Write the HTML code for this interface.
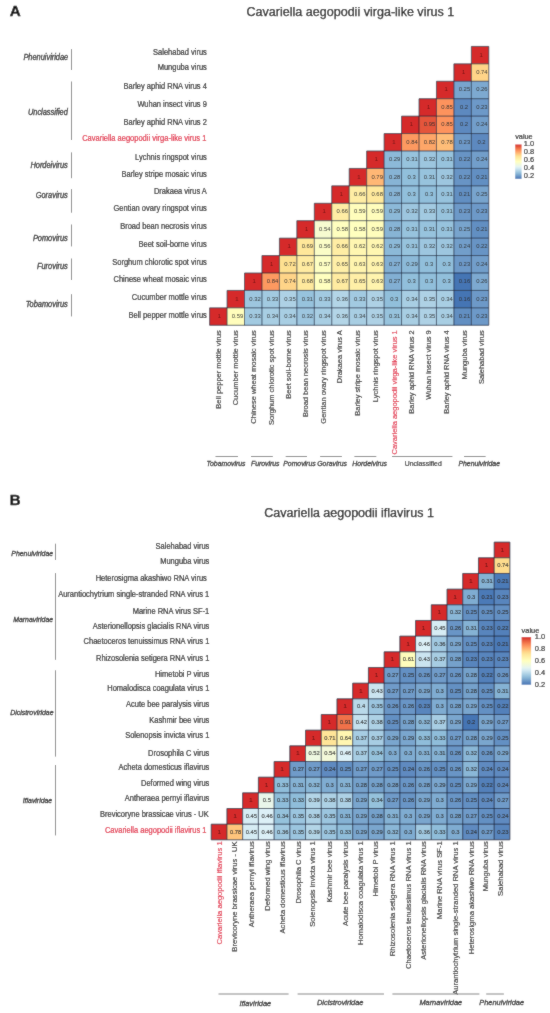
<!DOCTYPE html>
<html><head><meta charset="utf-8"><title>Heatmaps</title>
<style>html,body{margin:0;padding:0;background:#fff;width:550px;height:1013px;overflow:hidden;position:relative}text{font-family:"Liberation Sans",sans-serif}</style>
</head><body>
<svg width="550" height="1013" viewBox="0 0 550 1013" font-family="Liberation Sans, sans-serif" style="position:absolute;left:0;top:0">
<defs><filter id="soft" x="0" y="0" width="550" height="1013" filterUnits="userSpaceOnUse"><feConvolveMatrix order="3" kernelMatrix="1 2 1 2 24 2 1 2 1" divisor="36" edgeMode="duplicate"/></filter></defs>
<g filter="url(#soft)">
<rect width="550" height="1013" fill="#fff"/>
<text x="9.70" y="15.80" font-size="15.2" text-anchor="start" fill="#000" font-weight="bold" stroke="#000" stroke-width="0.4">A</text>
<text x="246.50" y="16.00" font-size="12.55" text-anchor="start" fill="#111" stroke="#111" stroke-width="0.25">Cavariella aegopodii virga-like virus 1</text>
<rect x="471.35" y="46.40" width="17.45" height="17.43" fill="#d52a2a"/>
<rect x="453.90" y="63.83" width="17.45" height="17.43" fill="#d52a2a"/>
<rect x="471.35" y="63.83" width="17.45" height="17.43" fill="#ffd488"/>
<rect x="436.45" y="81.26" width="17.45" height="17.43" fill="#d52a2a"/>
<rect x="453.90" y="81.26" width="17.45" height="17.43" fill="#78a4cd"/>
<rect x="471.35" y="81.26" width="17.45" height="17.43" fill="#7da9d0"/>
<rect x="419.00" y="98.69" width="17.45" height="17.43" fill="#d52a2a"/>
<rect x="436.45" y="98.69" width="17.45" height="17.43" fill="#fd935d"/>
<rect x="453.90" y="98.69" width="17.45" height="17.43" fill="#5d89bf"/>
<rect x="471.35" y="98.69" width="17.45" height="17.43" fill="#6d99c8"/>
<rect x="401.55" y="116.12" width="17.45" height="17.43" fill="#d52a2a"/>
<rect x="419.00" y="116.12" width="17.45" height="17.43" fill="#e4543a"/>
<rect x="436.45" y="116.12" width="17.45" height="17.43" fill="#fd935d"/>
<rect x="453.90" y="116.12" width="17.45" height="17.43" fill="#5d89bf"/>
<rect x="471.35" y="116.12" width="17.45" height="17.43" fill="#729eca"/>
<rect x="384.10" y="133.55" width="17.45" height="17.43" fill="#d52a2a"/>
<rect x="401.55" y="133.55" width="17.45" height="17.43" fill="#fd9961"/>
<rect x="419.00" y="133.55" width="17.45" height="17.43" fill="#fea668"/>
<rect x="436.45" y="133.55" width="17.45" height="17.43" fill="#ffbd78"/>
<rect x="453.90" y="133.55" width="17.45" height="17.43" fill="#6d99c8"/>
<rect x="471.35" y="133.55" width="17.45" height="17.43" fill="#5d89bf"/>
<rect x="366.65" y="150.98" width="17.45" height="17.43" fill="#d52a2a"/>
<rect x="384.10" y="150.98" width="17.45" height="17.43" fill="#8cb9d8"/>
<rect x="401.55" y="150.98" width="17.45" height="17.43" fill="#97c3dd"/>
<rect x="419.00" y="150.98" width="17.45" height="17.43" fill="#9dc6df"/>
<rect x="436.45" y="150.98" width="17.45" height="17.43" fill="#97c3dd"/>
<rect x="453.90" y="150.98" width="17.45" height="17.43" fill="#6894c5"/>
<rect x="471.35" y="150.98" width="17.45" height="17.43" fill="#729eca"/>
<rect x="349.20" y="168.41" width="17.45" height="17.43" fill="#d52a2a"/>
<rect x="366.65" y="168.41" width="17.45" height="17.43" fill="#ffb774"/>
<rect x="384.10" y="168.41" width="17.45" height="17.43" fill="#87b4d5"/>
<rect x="401.55" y="168.41" width="17.45" height="17.43" fill="#91bfdb"/>
<rect x="419.00" y="168.41" width="17.45" height="17.43" fill="#97c3dd"/>
<rect x="436.45" y="168.41" width="17.45" height="17.43" fill="#9dc6df"/>
<rect x="453.90" y="168.41" width="17.45" height="17.43" fill="#6894c5"/>
<rect x="471.35" y="168.41" width="17.45" height="17.43" fill="#628fc2"/>
<rect x="331.75" y="185.84" width="17.45" height="17.43" fill="#d52a2a"/>
<rect x="349.20" y="185.84" width="17.45" height="17.43" fill="#ffeda4"/>
<rect x="366.65" y="185.84" width="17.45" height="17.43" fill="#ffe99d"/>
<rect x="384.10" y="185.84" width="17.45" height="17.43" fill="#87b4d5"/>
<rect x="401.55" y="185.84" width="17.45" height="17.43" fill="#91bfdb"/>
<rect x="419.00" y="185.84" width="17.45" height="17.43" fill="#91bfdb"/>
<rect x="436.45" y="185.84" width="17.45" height="17.43" fill="#97c3dd"/>
<rect x="453.90" y="185.84" width="17.45" height="17.43" fill="#628fc2"/>
<rect x="471.35" y="185.84" width="17.45" height="17.43" fill="#78a4cd"/>
<rect x="314.30" y="203.27" width="17.45" height="17.43" fill="#d52a2a"/>
<rect x="331.75" y="203.27" width="17.45" height="17.43" fill="#ffeda4"/>
<rect x="349.20" y="203.27" width="17.45" height="17.43" fill="#fffdbc"/>
<rect x="366.65" y="203.27" width="17.45" height="17.43" fill="#fffdbc"/>
<rect x="384.10" y="203.27" width="17.45" height="17.43" fill="#8cb9d8"/>
<rect x="401.55" y="203.27" width="17.45" height="17.43" fill="#9dc6df"/>
<rect x="419.00" y="203.27" width="17.45" height="17.43" fill="#a2cae1"/>
<rect x="436.45" y="203.27" width="17.45" height="17.43" fill="#97c3dd"/>
<rect x="453.90" y="203.27" width="17.45" height="17.43" fill="#6d99c8"/>
<rect x="471.35" y="203.27" width="17.45" height="17.43" fill="#6d99c8"/>
<rect x="296.85" y="220.70" width="17.45" height="17.43" fill="#d52a2a"/>
<rect x="314.30" y="220.70" width="17.45" height="17.43" fill="#f7fbd0"/>
<rect x="331.75" y="220.70" width="17.45" height="17.43" fill="#ffffbf"/>
<rect x="349.20" y="220.70" width="17.45" height="17.43" fill="#ffffbf"/>
<rect x="366.65" y="220.70" width="17.45" height="17.43" fill="#fffdbc"/>
<rect x="384.10" y="220.70" width="17.45" height="17.43" fill="#87b4d5"/>
<rect x="401.55" y="220.70" width="17.45" height="17.43" fill="#97c3dd"/>
<rect x="419.00" y="220.70" width="17.45" height="17.43" fill="#97c3dd"/>
<rect x="436.45" y="220.70" width="17.45" height="17.43" fill="#97c3dd"/>
<rect x="453.90" y="220.70" width="17.45" height="17.43" fill="#78a4cd"/>
<rect x="471.35" y="220.70" width="17.45" height="17.43" fill="#628fc2"/>
<rect x="279.40" y="238.13" width="17.45" height="17.43" fill="#d52a2a"/>
<rect x="296.85" y="238.13" width="17.45" height="17.43" fill="#ffe79a"/>
<rect x="314.30" y="238.13" width="17.45" height="17.43" fill="#fbfdc7"/>
<rect x="331.75" y="238.13" width="17.45" height="17.43" fill="#ffeda4"/>
<rect x="349.20" y="238.13" width="17.45" height="17.43" fill="#fff6b1"/>
<rect x="366.65" y="238.13" width="17.45" height="17.43" fill="#fff6b1"/>
<rect x="384.10" y="238.13" width="17.45" height="17.43" fill="#8cb9d8"/>
<rect x="401.55" y="238.13" width="17.45" height="17.43" fill="#97c3dd"/>
<rect x="419.00" y="238.13" width="17.45" height="17.43" fill="#9dc6df"/>
<rect x="436.45" y="238.13" width="17.45" height="17.43" fill="#9dc6df"/>
<rect x="453.90" y="238.13" width="17.45" height="17.43" fill="#729eca"/>
<rect x="471.35" y="238.13" width="17.45" height="17.43" fill="#6894c5"/>
<rect x="261.95" y="255.56" width="17.45" height="17.43" fill="#d52a2a"/>
<rect x="279.40" y="255.56" width="17.45" height="17.43" fill="#fee090"/>
<rect x="296.85" y="255.56" width="17.45" height="17.43" fill="#ffeba1"/>
<rect x="314.30" y="255.56" width="17.45" height="17.43" fill="#fdfec3"/>
<rect x="331.75" y="255.56" width="17.45" height="17.43" fill="#ffefa7"/>
<rect x="349.20" y="255.56" width="17.45" height="17.43" fill="#fff4ae"/>
<rect x="366.65" y="255.56" width="17.45" height="17.43" fill="#fff4ae"/>
<rect x="384.10" y="255.56" width="17.45" height="17.43" fill="#82afd3"/>
<rect x="401.55" y="255.56" width="17.45" height="17.43" fill="#8cb9d8"/>
<rect x="419.00" y="255.56" width="17.45" height="17.43" fill="#91bfdb"/>
<rect x="436.45" y="255.56" width="17.45" height="17.43" fill="#91bfdb"/>
<rect x="453.90" y="255.56" width="17.45" height="17.43" fill="#6d99c8"/>
<rect x="471.35" y="255.56" width="17.45" height="17.43" fill="#729eca"/>
<rect x="244.50" y="272.99" width="17.45" height="17.43" fill="#d52a2a"/>
<rect x="261.95" y="272.99" width="17.45" height="17.43" fill="#fd9961"/>
<rect x="279.40" y="272.99" width="17.45" height="17.43" fill="#ffd488"/>
<rect x="296.85" y="272.99" width="17.45" height="17.43" fill="#ffe99d"/>
<rect x="314.30" y="272.99" width="17.45" height="17.43" fill="#ffffbf"/>
<rect x="331.75" y="272.99" width="17.45" height="17.43" fill="#ffeba1"/>
<rect x="349.20" y="272.99" width="17.45" height="17.43" fill="#ffefa7"/>
<rect x="366.65" y="272.99" width="17.45" height="17.43" fill="#fff4ae"/>
<rect x="384.10" y="272.99" width="17.45" height="17.43" fill="#82afd3"/>
<rect x="401.55" y="272.99" width="17.45" height="17.43" fill="#91bfdb"/>
<rect x="419.00" y="272.99" width="17.45" height="17.43" fill="#91bfdb"/>
<rect x="436.45" y="272.99" width="17.45" height="17.43" fill="#91bfdb"/>
<rect x="453.90" y="272.99" width="17.45" height="17.43" fill="#4575b4"/>
<rect x="471.35" y="272.99" width="17.45" height="17.43" fill="#7da9d0"/>
<rect x="227.05" y="290.42" width="17.45" height="17.43" fill="#d52a2a"/>
<rect x="244.50" y="290.42" width="17.45" height="17.43" fill="#9dc6df"/>
<rect x="261.95" y="290.42" width="17.45" height="17.43" fill="#a2cae1"/>
<rect x="279.40" y="290.42" width="17.45" height="17.43" fill="#aed1e5"/>
<rect x="296.85" y="290.42" width="17.45" height="17.43" fill="#97c3dd"/>
<rect x="314.30" y="290.42" width="17.45" height="17.43" fill="#a2cae1"/>
<rect x="331.75" y="290.42" width="17.45" height="17.43" fill="#b3d5e7"/>
<rect x="349.20" y="290.42" width="17.45" height="17.43" fill="#a2cae1"/>
<rect x="366.65" y="290.42" width="17.45" height="17.43" fill="#aed1e5"/>
<rect x="384.10" y="290.42" width="17.45" height="17.43" fill="#91bfdb"/>
<rect x="401.55" y="290.42" width="17.45" height="17.43" fill="#a8cee3"/>
<rect x="419.00" y="290.42" width="17.45" height="17.43" fill="#aed1e5"/>
<rect x="436.45" y="290.42" width="17.45" height="17.43" fill="#a8cee3"/>
<rect x="453.90" y="290.42" width="17.45" height="17.43" fill="#4575b4"/>
<rect x="471.35" y="290.42" width="17.45" height="17.43" fill="#6d99c8"/>
<rect x="209.60" y="307.85" width="17.45" height="17.43" fill="#d52a2a"/>
<rect x="227.05" y="307.85" width="17.45" height="17.43" fill="#fffdbc"/>
<rect x="244.50" y="307.85" width="17.45" height="17.43" fill="#a2cae1"/>
<rect x="261.95" y="307.85" width="17.45" height="17.43" fill="#a8cee3"/>
<rect x="279.40" y="307.85" width="17.45" height="17.43" fill="#a8cee3"/>
<rect x="296.85" y="307.85" width="17.45" height="17.43" fill="#9dc6df"/>
<rect x="314.30" y="307.85" width="17.45" height="17.43" fill="#a8cee3"/>
<rect x="331.75" y="307.85" width="17.45" height="17.43" fill="#b3d5e7"/>
<rect x="349.20" y="307.85" width="17.45" height="17.43" fill="#a8cee3"/>
<rect x="366.65" y="307.85" width="17.45" height="17.43" fill="#aed1e5"/>
<rect x="384.10" y="307.85" width="17.45" height="17.43" fill="#97c3dd"/>
<rect x="401.55" y="307.85" width="17.45" height="17.43" fill="#a8cee3"/>
<rect x="419.00" y="307.85" width="17.45" height="17.43" fill="#aed1e5"/>
<rect x="436.45" y="307.85" width="17.45" height="17.43" fill="#a8cee3"/>
<rect x="453.90" y="307.85" width="17.45" height="17.43" fill="#628fc2"/>
<rect x="471.35" y="307.85" width="17.45" height="17.43" fill="#6d99c8"/>
<path d="M471.35 46.40H488.80M453.90 63.83H488.80M436.45 81.26H488.80M419.00 98.69H488.80M401.55 116.12H488.80M384.10 133.55H488.80M366.65 150.98H488.80M349.20 168.41H488.80M331.75 185.84H488.80M314.30 203.27H488.80M296.85 220.70H488.80M279.40 238.13H488.80M261.95 255.56H488.80M244.50 272.99H488.80M227.05 290.42H488.80M209.60 307.85H488.80M209.60 325.28H488.80M209.60 307.85V325.28M227.05 290.42V325.28M244.50 272.99V325.28M261.95 255.56V325.28M279.40 238.13V325.28M296.85 220.70V325.28M314.30 203.27V325.28M331.75 185.84V325.28M349.20 168.41V325.28M366.65 150.98V325.28M384.10 133.55V325.28M401.55 116.12V325.28M419.00 98.69V325.28M436.45 81.26V325.28M453.90 63.83V325.28M471.35 46.40V325.28M488.80 46.40V325.28" stroke="rgba(10,20,45,0.72)" stroke-width="0.9" fill="none"/>
<text transform="translate(481.07,56.51) scale(1,1.05)" font-size="5.9" text-anchor="middle" fill="#6e1414">1</text>
<text transform="translate(463.62,73.95) scale(1,1.05)" font-size="5.9" text-anchor="middle" fill="#6e1414">1</text>
<text transform="translate(481.87,73.95) scale(1,1.05)" font-size="5.9" text-anchor="middle" fill="#303030">0.74</text>
<text transform="translate(446.17,91.38) scale(1,1.05)" font-size="5.9" text-anchor="middle" fill="#6e1414">1</text>
<text transform="translate(464.43,91.38) scale(1,1.05)" font-size="5.9" text-anchor="middle" fill="#303030">0.25</text>
<text transform="translate(481.87,91.38) scale(1,1.05)" font-size="5.9" text-anchor="middle" fill="#303030">0.26</text>
<text transform="translate(428.73,108.81) scale(1,1.05)" font-size="5.9" text-anchor="middle" fill="#6e1414">1</text>
<text transform="translate(446.97,108.81) scale(1,1.05)" font-size="5.9" text-anchor="middle" fill="#303030">0.85</text>
<text transform="translate(464.02,108.81) scale(1,1.05)" font-size="5.9" text-anchor="middle" fill="#303030">0.2</text>
<text transform="translate(481.87,108.81) scale(1,1.05)" font-size="5.9" text-anchor="middle" fill="#303030">0.23</text>
<text transform="translate(411.27,126.24) scale(1,1.05)" font-size="5.9" text-anchor="middle" fill="#6e1414">1</text>
<text transform="translate(429.53,126.24) scale(1,1.05)" font-size="5.9" text-anchor="middle" fill="#303030">0.95</text>
<text transform="translate(446.97,126.24) scale(1,1.05)" font-size="5.9" text-anchor="middle" fill="#303030">0.85</text>
<text transform="translate(464.02,126.24) scale(1,1.05)" font-size="5.9" text-anchor="middle" fill="#303030">0.2</text>
<text transform="translate(481.87,126.24) scale(1,1.05)" font-size="5.9" text-anchor="middle" fill="#303030">0.24</text>
<text transform="translate(393.82,143.66) scale(1,1.05)" font-size="5.9" text-anchor="middle" fill="#6e1414">1</text>
<text transform="translate(412.07,143.66) scale(1,1.05)" font-size="5.9" text-anchor="middle" fill="#303030">0.84</text>
<text transform="translate(429.53,143.66) scale(1,1.05)" font-size="5.9" text-anchor="middle" fill="#303030">0.82</text>
<text transform="translate(446.97,143.66) scale(1,1.05)" font-size="5.9" text-anchor="middle" fill="#303030">0.78</text>
<text transform="translate(464.43,143.66) scale(1,1.05)" font-size="5.9" text-anchor="middle" fill="#303030">0.23</text>
<text transform="translate(481.47,143.66) scale(1,1.05)" font-size="5.9" text-anchor="middle" fill="#303030">0.2</text>
<text transform="translate(376.38,161.09) scale(1,1.05)" font-size="5.9" text-anchor="middle" fill="#6e1414">1</text>
<text transform="translate(394.62,161.09) scale(1,1.05)" font-size="5.9" text-anchor="middle" fill="#303030">0.29</text>
<text transform="translate(412.07,161.09) scale(1,1.05)" font-size="5.9" text-anchor="middle" fill="#303030">0.31</text>
<text transform="translate(429.53,161.09) scale(1,1.05)" font-size="5.9" text-anchor="middle" fill="#303030">0.32</text>
<text transform="translate(446.97,161.09) scale(1,1.05)" font-size="5.9" text-anchor="middle" fill="#303030">0.31</text>
<text transform="translate(464.43,161.09) scale(1,1.05)" font-size="5.9" text-anchor="middle" fill="#303030">0.22</text>
<text transform="translate(481.87,161.09) scale(1,1.05)" font-size="5.9" text-anchor="middle" fill="#303030">0.24</text>
<text transform="translate(358.92,178.53) scale(1,1.05)" font-size="5.9" text-anchor="middle" fill="#6e1414">1</text>
<text transform="translate(377.18,178.53) scale(1,1.05)" font-size="5.9" text-anchor="middle" fill="#303030">0.79</text>
<text transform="translate(394.62,178.53) scale(1,1.05)" font-size="5.9" text-anchor="middle" fill="#303030">0.28</text>
<text transform="translate(411.67,178.53) scale(1,1.05)" font-size="5.9" text-anchor="middle" fill="#303030">0.3</text>
<text transform="translate(429.53,178.53) scale(1,1.05)" font-size="5.9" text-anchor="middle" fill="#303030">0.31</text>
<text transform="translate(446.97,178.53) scale(1,1.05)" font-size="5.9" text-anchor="middle" fill="#303030">0.32</text>
<text transform="translate(464.43,178.53) scale(1,1.05)" font-size="5.9" text-anchor="middle" fill="#303030">0.22</text>
<text transform="translate(481.87,178.53) scale(1,1.05)" font-size="5.9" text-anchor="middle" fill="#303030">0.21</text>
<text transform="translate(341.48,195.96) scale(1,1.05)" font-size="5.9" text-anchor="middle" fill="#6e1414">1</text>
<text transform="translate(359.72,195.96) scale(1,1.05)" font-size="5.9" text-anchor="middle" fill="#303030">0.66</text>
<text transform="translate(377.18,195.96) scale(1,1.05)" font-size="5.9" text-anchor="middle" fill="#303030">0.68</text>
<text transform="translate(394.62,195.96) scale(1,1.05)" font-size="5.9" text-anchor="middle" fill="#303030">0.28</text>
<text transform="translate(411.67,195.96) scale(1,1.05)" font-size="5.9" text-anchor="middle" fill="#303030">0.3</text>
<text transform="translate(429.12,195.96) scale(1,1.05)" font-size="5.9" text-anchor="middle" fill="#303030">0.3</text>
<text transform="translate(446.97,195.96) scale(1,1.05)" font-size="5.9" text-anchor="middle" fill="#303030">0.31</text>
<text transform="translate(464.43,195.96) scale(1,1.05)" font-size="5.9" text-anchor="middle" fill="#303030">0.21</text>
<text transform="translate(481.87,195.96) scale(1,1.05)" font-size="5.9" text-anchor="middle" fill="#303030">0.25</text>
<text transform="translate(324.02,213.39) scale(1,1.05)" font-size="5.9" text-anchor="middle" fill="#6e1414">1</text>
<text transform="translate(342.28,213.39) scale(1,1.05)" font-size="5.9" text-anchor="middle" fill="#303030">0.66</text>
<text transform="translate(359.72,213.39) scale(1,1.05)" font-size="5.9" text-anchor="middle" fill="#303030">0.59</text>
<text transform="translate(377.18,213.39) scale(1,1.05)" font-size="5.9" text-anchor="middle" fill="#303030">0.59</text>
<text transform="translate(394.62,213.39) scale(1,1.05)" font-size="5.9" text-anchor="middle" fill="#303030">0.29</text>
<text transform="translate(412.07,213.39) scale(1,1.05)" font-size="5.9" text-anchor="middle" fill="#303030">0.32</text>
<text transform="translate(429.53,213.39) scale(1,1.05)" font-size="5.9" text-anchor="middle" fill="#303030">0.33</text>
<text transform="translate(446.97,213.39) scale(1,1.05)" font-size="5.9" text-anchor="middle" fill="#303030">0.31</text>
<text transform="translate(464.43,213.39) scale(1,1.05)" font-size="5.9" text-anchor="middle" fill="#303030">0.23</text>
<text transform="translate(481.87,213.39) scale(1,1.05)" font-size="5.9" text-anchor="middle" fill="#303030">0.23</text>
<text transform="translate(306.57,230.81) scale(1,1.05)" font-size="5.9" text-anchor="middle" fill="#6e1414">1</text>
<text transform="translate(324.82,230.81) scale(1,1.05)" font-size="5.9" text-anchor="middle" fill="#303030">0.54</text>
<text transform="translate(342.28,230.81) scale(1,1.05)" font-size="5.9" text-anchor="middle" fill="#303030">0.58</text>
<text transform="translate(359.72,230.81) scale(1,1.05)" font-size="5.9" text-anchor="middle" fill="#303030">0.58</text>
<text transform="translate(377.18,230.81) scale(1,1.05)" font-size="5.9" text-anchor="middle" fill="#303030">0.59</text>
<text transform="translate(394.62,230.81) scale(1,1.05)" font-size="5.9" text-anchor="middle" fill="#303030">0.28</text>
<text transform="translate(412.07,230.81) scale(1,1.05)" font-size="5.9" text-anchor="middle" fill="#303030">0.31</text>
<text transform="translate(429.53,230.81) scale(1,1.05)" font-size="5.9" text-anchor="middle" fill="#303030">0.31</text>
<text transform="translate(446.97,230.81) scale(1,1.05)" font-size="5.9" text-anchor="middle" fill="#303030">0.31</text>
<text transform="translate(464.43,230.81) scale(1,1.05)" font-size="5.9" text-anchor="middle" fill="#303030">0.25</text>
<text transform="translate(481.87,230.81) scale(1,1.05)" font-size="5.9" text-anchor="middle" fill="#303030">0.21</text>
<text transform="translate(289.12,248.25) scale(1,1.05)" font-size="5.9" text-anchor="middle" fill="#6e1414">1</text>
<text transform="translate(307.38,248.25) scale(1,1.05)" font-size="5.9" text-anchor="middle" fill="#303030">0.69</text>
<text transform="translate(324.82,248.25) scale(1,1.05)" font-size="5.9" text-anchor="middle" fill="#303030">0.56</text>
<text transform="translate(342.28,248.25) scale(1,1.05)" font-size="5.9" text-anchor="middle" fill="#303030">0.66</text>
<text transform="translate(359.72,248.25) scale(1,1.05)" font-size="5.9" text-anchor="middle" fill="#303030">0.62</text>
<text transform="translate(377.18,248.25) scale(1,1.05)" font-size="5.9" text-anchor="middle" fill="#303030">0.62</text>
<text transform="translate(394.62,248.25) scale(1,1.05)" font-size="5.9" text-anchor="middle" fill="#303030">0.29</text>
<text transform="translate(412.07,248.25) scale(1,1.05)" font-size="5.9" text-anchor="middle" fill="#303030">0.31</text>
<text transform="translate(429.53,248.25) scale(1,1.05)" font-size="5.9" text-anchor="middle" fill="#303030">0.32</text>
<text transform="translate(446.97,248.25) scale(1,1.05)" font-size="5.9" text-anchor="middle" fill="#303030">0.32</text>
<text transform="translate(464.43,248.25) scale(1,1.05)" font-size="5.9" text-anchor="middle" fill="#303030">0.24</text>
<text transform="translate(481.87,248.25) scale(1,1.05)" font-size="5.9" text-anchor="middle" fill="#303030">0.22</text>
<text transform="translate(271.68,265.67) scale(1,1.05)" font-size="5.9" text-anchor="middle" fill="#6e1414">1</text>
<text transform="translate(289.93,265.67) scale(1,1.05)" font-size="5.9" text-anchor="middle" fill="#303030">0.72</text>
<text transform="translate(307.38,265.67) scale(1,1.05)" font-size="5.9" text-anchor="middle" fill="#303030">0.67</text>
<text transform="translate(324.82,265.67) scale(1,1.05)" font-size="5.9" text-anchor="middle" fill="#303030">0.57</text>
<text transform="translate(342.28,265.67) scale(1,1.05)" font-size="5.9" text-anchor="middle" fill="#303030">0.65</text>
<text transform="translate(359.72,265.67) scale(1,1.05)" font-size="5.9" text-anchor="middle" fill="#303030">0.63</text>
<text transform="translate(377.18,265.67) scale(1,1.05)" font-size="5.9" text-anchor="middle" fill="#303030">0.63</text>
<text transform="translate(394.62,265.67) scale(1,1.05)" font-size="5.9" text-anchor="middle" fill="#303030">0.27</text>
<text transform="translate(412.07,265.67) scale(1,1.05)" font-size="5.9" text-anchor="middle" fill="#303030">0.29</text>
<text transform="translate(429.12,265.67) scale(1,1.05)" font-size="5.9" text-anchor="middle" fill="#303030">0.3</text>
<text transform="translate(446.57,265.67) scale(1,1.05)" font-size="5.9" text-anchor="middle" fill="#303030">0.3</text>
<text transform="translate(464.43,265.67) scale(1,1.05)" font-size="5.9" text-anchor="middle" fill="#303030">0.23</text>
<text transform="translate(481.87,265.67) scale(1,1.05)" font-size="5.9" text-anchor="middle" fill="#303030">0.24</text>
<text transform="translate(254.22,283.10) scale(1,1.05)" font-size="5.9" text-anchor="middle" fill="#6e1414">1</text>
<text transform="translate(272.48,283.10) scale(1,1.05)" font-size="5.9" text-anchor="middle" fill="#303030">0.84</text>
<text transform="translate(289.93,283.10) scale(1,1.05)" font-size="5.9" text-anchor="middle" fill="#303030">0.74</text>
<text transform="translate(307.38,283.10) scale(1,1.05)" font-size="5.9" text-anchor="middle" fill="#303030">0.68</text>
<text transform="translate(324.82,283.10) scale(1,1.05)" font-size="5.9" text-anchor="middle" fill="#303030">0.58</text>
<text transform="translate(342.28,283.10) scale(1,1.05)" font-size="5.9" text-anchor="middle" fill="#303030">0.67</text>
<text transform="translate(359.72,283.10) scale(1,1.05)" font-size="5.9" text-anchor="middle" fill="#303030">0.65</text>
<text transform="translate(377.18,283.10) scale(1,1.05)" font-size="5.9" text-anchor="middle" fill="#303030">0.63</text>
<text transform="translate(394.62,283.10) scale(1,1.05)" font-size="5.9" text-anchor="middle" fill="#303030">0.27</text>
<text transform="translate(411.67,283.10) scale(1,1.05)" font-size="5.9" text-anchor="middle" fill="#303030">0.3</text>
<text transform="translate(429.12,283.10) scale(1,1.05)" font-size="5.9" text-anchor="middle" fill="#303030">0.3</text>
<text transform="translate(446.57,283.10) scale(1,1.05)" font-size="5.9" text-anchor="middle" fill="#303030">0.3</text>
<text transform="translate(464.43,283.10) scale(1,1.05)" font-size="5.9" text-anchor="middle" fill="#303030">0.16</text>
<text transform="translate(481.87,283.10) scale(1,1.05)" font-size="5.9" text-anchor="middle" fill="#303030">0.26</text>
<text transform="translate(236.77,300.53) scale(1,1.05)" font-size="5.9" text-anchor="middle" fill="#6e1414">1</text>
<text transform="translate(255.03,300.53) scale(1,1.05)" font-size="5.9" text-anchor="middle" fill="#303030">0.32</text>
<text transform="translate(272.48,300.53) scale(1,1.05)" font-size="5.9" text-anchor="middle" fill="#303030">0.33</text>
<text transform="translate(289.93,300.53) scale(1,1.05)" font-size="5.9" text-anchor="middle" fill="#303030">0.35</text>
<text transform="translate(307.38,300.53) scale(1,1.05)" font-size="5.9" text-anchor="middle" fill="#303030">0.31</text>
<text transform="translate(324.82,300.53) scale(1,1.05)" font-size="5.9" text-anchor="middle" fill="#303030">0.33</text>
<text transform="translate(342.28,300.53) scale(1,1.05)" font-size="5.9" text-anchor="middle" fill="#303030">0.36</text>
<text transform="translate(359.72,300.53) scale(1,1.05)" font-size="5.9" text-anchor="middle" fill="#303030">0.33</text>
<text transform="translate(377.18,300.53) scale(1,1.05)" font-size="5.9" text-anchor="middle" fill="#303030">0.35</text>
<text transform="translate(394.22,300.53) scale(1,1.05)" font-size="5.9" text-anchor="middle" fill="#303030">0.3</text>
<text transform="translate(412.07,300.53) scale(1,1.05)" font-size="5.9" text-anchor="middle" fill="#303030">0.34</text>
<text transform="translate(429.53,300.53) scale(1,1.05)" font-size="5.9" text-anchor="middle" fill="#303030">0.35</text>
<text transform="translate(446.97,300.53) scale(1,1.05)" font-size="5.9" text-anchor="middle" fill="#303030">0.34</text>
<text transform="translate(464.43,300.53) scale(1,1.05)" font-size="5.9" text-anchor="middle" fill="#303030">0.16</text>
<text transform="translate(481.87,300.53) scale(1,1.05)" font-size="5.9" text-anchor="middle" fill="#303030">0.23</text>
<text transform="translate(219.32,317.96) scale(1,1.05)" font-size="5.9" text-anchor="middle" fill="#6e1414">1</text>
<text transform="translate(237.57,317.96) scale(1,1.05)" font-size="5.9" text-anchor="middle" fill="#303030">0.59</text>
<text transform="translate(255.03,317.96) scale(1,1.05)" font-size="5.9" text-anchor="middle" fill="#303030">0.33</text>
<text transform="translate(272.48,317.96) scale(1,1.05)" font-size="5.9" text-anchor="middle" fill="#303030">0.34</text>
<text transform="translate(289.93,317.96) scale(1,1.05)" font-size="5.9" text-anchor="middle" fill="#303030">0.34</text>
<text transform="translate(307.38,317.96) scale(1,1.05)" font-size="5.9" text-anchor="middle" fill="#303030">0.32</text>
<text transform="translate(324.82,317.96) scale(1,1.05)" font-size="5.9" text-anchor="middle" fill="#303030">0.34</text>
<text transform="translate(342.28,317.96) scale(1,1.05)" font-size="5.9" text-anchor="middle" fill="#303030">0.36</text>
<text transform="translate(359.72,317.96) scale(1,1.05)" font-size="5.9" text-anchor="middle" fill="#303030">0.34</text>
<text transform="translate(377.18,317.96) scale(1,1.05)" font-size="5.9" text-anchor="middle" fill="#303030">0.35</text>
<text transform="translate(394.62,317.96) scale(1,1.05)" font-size="5.9" text-anchor="middle" fill="#303030">0.31</text>
<text transform="translate(412.07,317.96) scale(1,1.05)" font-size="5.9" text-anchor="middle" fill="#303030">0.34</text>
<text transform="translate(429.53,317.96) scale(1,1.05)" font-size="5.9" text-anchor="middle" fill="#303030">0.35</text>
<text transform="translate(446.97,317.96) scale(1,1.05)" font-size="5.9" text-anchor="middle" fill="#303030">0.34</text>
<text transform="translate(464.43,317.96) scale(1,1.05)" font-size="5.9" text-anchor="middle" fill="#303030">0.21</text>
<text transform="translate(481.87,317.96) scale(1,1.05)" font-size="5.9" text-anchor="middle" fill="#303030">0.23</text>
<text transform="translate(206.80,54.90) scale(1,1.1)" font-size="7.5" text-anchor="end" fill="#1a1a1a" stroke="#1a1a1a" stroke-width="0.18">Salehabad virus</text>
<text transform="translate(206.80,70.10) scale(1,1.1)" font-size="7.5" text-anchor="end" fill="#1a1a1a" stroke="#1a1a1a" stroke-width="0.18">Munguba virus</text>
<text transform="translate(206.80,88.70) scale(1,1.1)" font-size="7.5" text-anchor="end" fill="#1a1a1a" stroke="#1a1a1a" stroke-width="0.18">Barley aphid RNA virus 4</text>
<text transform="translate(206.80,106.70) scale(1,1.1)" font-size="7.5" text-anchor="end" fill="#1a1a1a" stroke="#1a1a1a" stroke-width="0.18">Wuhan insect virus 9</text>
<text transform="translate(206.80,124.90) scale(1,1.1)" font-size="7.5" text-anchor="end" fill="#1a1a1a" stroke="#1a1a1a" stroke-width="0.18">Barley aphid RNA virus 2</text>
<text transform="translate(206.30,140.90) scale(1,1.1)" font-size="7.5" text-anchor="end" fill="#e0233f" stroke="#e0233f" stroke-width="0.18">Cavariella aegopodii virga-like virus 1</text>
<text transform="translate(206.80,160.40) scale(1,1.1)" font-size="7.5" text-anchor="end" fill="#1a1a1a" stroke="#1a1a1a" stroke-width="0.18">Lychnis ringspot virus</text>
<text transform="translate(206.80,177.30) scale(1,1.1)" font-size="7.5" text-anchor="end" fill="#1a1a1a" stroke="#1a1a1a" stroke-width="0.18">Barley stripe mosaic virus</text>
<text transform="translate(206.80,194.30) scale(1,1.1)" font-size="7.5" text-anchor="end" fill="#1a1a1a" stroke="#1a1a1a" stroke-width="0.18">Drakaea virus A</text>
<text transform="translate(206.80,210.90) scale(1,1.1)" font-size="7.5" text-anchor="end" fill="#1a1a1a" stroke="#1a1a1a" stroke-width="0.18">Gentian ovary ringspot virus</text>
<text transform="translate(206.80,229.10) scale(1,1.1)" font-size="7.5" text-anchor="end" fill="#1a1a1a" stroke="#1a1a1a" stroke-width="0.18">Broad bean necrosis virus</text>
<text transform="translate(206.80,246.90) scale(1,1.1)" font-size="7.5" text-anchor="end" fill="#1a1a1a" stroke="#1a1a1a" stroke-width="0.18">Beet soil-borne virus</text>
<text transform="translate(206.80,264.50) scale(1,1.1)" font-size="7.5" text-anchor="end" fill="#1a1a1a" stroke="#1a1a1a" stroke-width="0.18">Sorghum chlorotic spot virus</text>
<text transform="translate(206.80,282.10) scale(1,1.1)" font-size="7.5" text-anchor="end" fill="#1a1a1a" stroke="#1a1a1a" stroke-width="0.18">Chinese wheat mosaic virus</text>
<text transform="translate(206.80,299.50) scale(1,1.1)" font-size="7.5" text-anchor="end" fill="#1a1a1a" stroke="#1a1a1a" stroke-width="0.18">Cucumber mottle virus</text>
<text transform="translate(206.80,317.50) scale(1,1.1)" font-size="7.5" text-anchor="end" fill="#1a1a1a" stroke="#1a1a1a" stroke-width="0.18">Bell pepper mottle virus</text>
<text transform="translate(221.42,330.30) rotate(-90) scale(1,1.0)" font-size="7.5" text-anchor="end" fill="#1a1a1a" stroke="#1a1a1a" stroke-width="0.14">Bell pepper mottle virus</text>
<text transform="translate(237.67,330.30) rotate(-90) scale(1,1.0)" font-size="7.5" text-anchor="end" fill="#1a1a1a" stroke="#1a1a1a" stroke-width="0.14">Cucumber mottle virus</text>
<text transform="translate(255.72,330.30) rotate(-90) scale(1,1.0)" font-size="7.5" text-anchor="end" fill="#1a1a1a" stroke="#1a1a1a" stroke-width="0.14">Chinese wheat mosaic virus</text>
<text transform="translate(273.57,330.30) rotate(-90) scale(1,1.0)" font-size="7.5" text-anchor="end" fill="#1a1a1a" stroke="#1a1a1a" stroke-width="0.14">Sorghum chlorotic spot virus</text>
<text transform="translate(291.12,330.30) rotate(-90) scale(1,1.0)" font-size="7.5" text-anchor="end" fill="#1a1a1a" stroke="#1a1a1a" stroke-width="0.14">Beet soil-borne virus</text>
<text transform="translate(308.47,330.30) rotate(-90) scale(1,1.0)" font-size="7.5" text-anchor="end" fill="#1a1a1a" stroke="#1a1a1a" stroke-width="0.14">Broad bean necrosis virus</text>
<text transform="translate(325.82,330.30) rotate(-90) scale(1,1.0)" font-size="7.5" text-anchor="end" fill="#1a1a1a" stroke="#1a1a1a" stroke-width="0.14">Gentian ovary ringspot virus</text>
<text transform="translate(342.28,330.30) rotate(-90) scale(1,1.0)" font-size="7.5" text-anchor="end" fill="#1a1a1a" stroke="#1a1a1a" stroke-width="0.14">Drakaea virus A</text>
<text transform="translate(360.42,330.30) rotate(-90) scale(1,1.0)" font-size="7.5" text-anchor="end" fill="#1a1a1a" stroke="#1a1a1a" stroke-width="0.14">Barley stripe mosaic virus</text>
<text transform="translate(377.77,330.30) rotate(-90) scale(1,1.0)" font-size="7.5" text-anchor="end" fill="#1a1a1a" stroke="#1a1a1a" stroke-width="0.14">Lychnis ringspot virus</text>
<text transform="translate(396.82,330.30) rotate(-90) scale(1,1.0)" font-size="7.5" text-anchor="end" fill="#e0233f" stroke="#e0233f" stroke-width="0.14">Cavariella aegopodii virga-like virus 1</text>
<text transform="translate(413.67,330.30) rotate(-90) scale(1,1.0)" font-size="7.5" text-anchor="end" fill="#1a1a1a" stroke="#1a1a1a" stroke-width="0.14">Barley aphid RNA virus 2</text>
<text transform="translate(431.12,330.30) rotate(-90) scale(1,1.0)" font-size="7.5" text-anchor="end" fill="#1a1a1a" stroke="#1a1a1a" stroke-width="0.14">Wuhan insect virus 9</text>
<text transform="translate(448.57,330.30) rotate(-90) scale(1,1.0)" font-size="7.5" text-anchor="end" fill="#1a1a1a" stroke="#1a1a1a" stroke-width="0.14">Barley aphid RNA virus 4</text>
<text transform="translate(466.62,330.30) rotate(-90) scale(1,1.0)" font-size="7.5" text-anchor="end" fill="#1a1a1a" stroke="#1a1a1a" stroke-width="0.14">Munguba virus</text>
<text transform="translate(484.17,330.30) rotate(-90) scale(1,1.0)" font-size="7.5" text-anchor="end" fill="#1a1a1a" stroke="#1a1a1a" stroke-width="0.14">Salehabad virus</text>
<line x1="71.5" y1="49.1" x2="71.5" y2="70" stroke="#858585" stroke-width="1"/>
<text transform="translate(68.20,60.00) scale(1,1.1)" font-size="7.4" text-anchor="end" fill="#1f1f1f" font-style="italic" stroke="#1f1f1f" stroke-width="0.26">Phenuiviridae</text>
<line x1="71.5" y1="81.5" x2="71.5" y2="140" stroke="#858585" stroke-width="1"/>
<text transform="translate(67.80,114.50) scale(1,1.1)" font-size="7.4" text-anchor="end" fill="#1f1f1f" font-style="italic" stroke="#1f1f1f" stroke-width="0.26">Unclassified</text>
<line x1="71.5" y1="152.4" x2="71.5" y2="178.2" stroke="#858585" stroke-width="1"/>
<text transform="translate(67.80,167.80) scale(1,1.1)" font-size="7.4" text-anchor="end" fill="#1f1f1f" font-style="italic" stroke="#1f1f1f" stroke-width="0.26">Hordeivirus</text>
<line x1="71.5" y1="189.1" x2="71.5" y2="212.7" stroke="#858585" stroke-width="1"/>
<text transform="translate(67.80,198.20) scale(1,1.1)" font-size="7.4" text-anchor="end" fill="#1f1f1f" font-style="italic" stroke="#1f1f1f" stroke-width="0.26">Goravirus</text>
<line x1="71.5" y1="224.5" x2="71.5" y2="246.4" stroke="#858585" stroke-width="1"/>
<text transform="translate(67.80,240.90) scale(1,1.1)" font-size="7.4" text-anchor="end" fill="#1f1f1f" font-style="italic" stroke="#1f1f1f" stroke-width="0.26">Pomovirus</text>
<line x1="71.5" y1="258.5" x2="71.5" y2="280" stroke="#858585" stroke-width="1"/>
<text transform="translate(67.80,269.10) scale(1,1.1)" font-size="7.4" text-anchor="end" fill="#1f1f1f" font-style="italic" stroke="#1f1f1f" stroke-width="0.26">Furovirus</text>
<line x1="71.5" y1="294.2" x2="71.5" y2="316.4" stroke="#858585" stroke-width="1"/>
<text transform="translate(67.80,306.90) scale(1,1.1)" font-size="7.4" text-anchor="end" fill="#1f1f1f" font-style="italic" stroke="#1f1f1f" stroke-width="0.26">Tobamovirus</text>
<line x1="215.5" y1="456.5" x2="238" y2="456.5" stroke="#858585" stroke-width="1"/>
<text x="206.50" y="466.30" font-size="6.85" text-anchor="start" fill="#1f1f1f" font-style="italic" stroke="#1f1f1f" stroke-width="0.26">Tobamovirus</text>
<line x1="251" y1="456.5" x2="272.8" y2="456.5" stroke="#858585" stroke-width="1"/>
<text x="251.00" y="466.30" font-size="6.85" text-anchor="start" fill="#1f1f1f" font-style="italic" stroke="#1f1f1f" stroke-width="0.26">Furovirus</text>
<line x1="285.7" y1="456.5" x2="307" y2="456.5" stroke="#858585" stroke-width="1"/>
<text x="283.30" y="466.30" font-size="6.85" text-anchor="start" fill="#1f1f1f" font-style="italic" stroke="#1f1f1f" stroke-width="0.26">Pomovirus</text>
<line x1="320.1" y1="456.5" x2="341.9" y2="456.5" stroke="#858585" stroke-width="1"/>
<text x="317.30" y="466.30" font-size="6.85" text-anchor="start" fill="#1f1f1f" font-style="italic" stroke="#1f1f1f" stroke-width="0.26">Goravirus</text>
<line x1="354.4" y1="456.5" x2="376.3" y2="456.5" stroke="#858585" stroke-width="1"/>
<text x="352.30" y="466.30" font-size="6.85" text-anchor="start" fill="#1f1f1f" font-style="italic" stroke="#1f1f1f" stroke-width="0.26">Hordeivirus</text>
<line x1="392" y1="456.5" x2="452.4" y2="456.5" stroke="#858585" stroke-width="1"/>
<text x="404.80" y="466.30" font-size="6.85" text-anchor="start" fill="#1f1f1f" stroke="#1f1f1f" stroke-width="0.18">Unclassified</text>
<line x1="464" y1="456.5" x2="485.6" y2="456.5" stroke="#858585" stroke-width="1"/>
<text x="458.50" y="466.30" font-size="6.85" text-anchor="start" fill="#1f1f1f" font-style="italic" stroke="#1f1f1f" stroke-width="0.26">Phenuiviridae</text>
<defs><linearGradient id="gA" x1="0" y1="0" x2="0" y2="1"><stop offset="0.000" stop-color="#d52a2a"/><stop offset="0.050" stop-color="#e14e37"/><stop offset="0.100" stop-color="#ed6a45"/><stop offset="0.150" stop-color="#f88554"/><stop offset="0.200" stop-color="#fe9e64"/><stop offset="0.250" stop-color="#ffb774"/><stop offset="0.300" stop-color="#ffd085"/><stop offset="0.350" stop-color="#fee395"/><stop offset="0.400" stop-color="#ffeca3"/><stop offset="0.450" stop-color="#fff6b1"/><stop offset="0.500" stop-color="#ffffbf"/><stop offset="0.550" stop-color="#f7fbd0"/><stop offset="0.600" stop-color="#eef8e1"/><stop offset="0.650" stop-color="#e4f4f2"/><stop offset="0.700" stop-color="#d1e8f2"/><stop offset="0.750" stop-color="#b9d9e9"/><stop offset="0.800" stop-color="#a1c9e1"/><stop offset="0.850" stop-color="#8ab7d7"/><stop offset="0.900" stop-color="#74a1cb"/><stop offset="0.950" stop-color="#5e8ac0"/><stop offset="1.000" stop-color="#4575b4"/></linearGradient></defs>
<rect x="515.2" y="144.5" width="6.4" height="34.3" fill="url(#gA)"/>
<text transform="translate(515.20,138.70) scale(1,1.05)" font-size="7.3" text-anchor="start" fill="#1a1a1a" stroke="#1a1a1a" stroke-width="0.18">value</text>
<text transform="translate(523.80,146.20) scale(1,1.08)" font-size="7.5" text-anchor="start" fill="#1a1a1a" stroke="#1a1a1a" stroke-width="0.18">1.0</text>
<text transform="translate(523.80,154.10) scale(1,1.08)" font-size="7.5" text-anchor="start" fill="#1a1a1a" stroke="#1a1a1a" stroke-width="0.18">0.8</text>
<text transform="translate(523.80,162.00) scale(1,1.08)" font-size="7.5" text-anchor="start" fill="#1a1a1a" stroke="#1a1a1a" stroke-width="0.18">0.6</text>
<text transform="translate(523.80,169.90) scale(1,1.08)" font-size="7.5" text-anchor="start" fill="#1a1a1a" stroke="#1a1a1a" stroke-width="0.18">0.4</text>
<text transform="translate(523.80,177.80) scale(1,1.08)" font-size="7.5" text-anchor="start" fill="#1a1a1a" stroke="#1a1a1a" stroke-width="0.18">0.2</text>
<text x="9.70" y="504.80" font-size="15.0" text-anchor="start" fill="#000" font-weight="bold" stroke="#000" stroke-width="0.4">B</text>
<text x="264.30" y="517.40" font-size="12.5" text-anchor="start" fill="#111" stroke="#111" stroke-width="0.25">Cavariella aegopodii iflavirus 1</text>
<rect x="494.16" y="542.10" width="15.72" height="15.67" fill="#d52a2a"/>
<rect x="478.44" y="557.77" width="15.72" height="15.67" fill="#d52a2a"/>
<rect x="494.16" y="557.77" width="15.72" height="15.67" fill="#fedc8d"/>
<rect x="462.72" y="573.44" width="15.72" height="15.67" fill="#d52a2a"/>
<rect x="478.44" y="573.44" width="15.72" height="15.67" fill="#85b2d4"/>
<rect x="494.16" y="573.44" width="15.72" height="15.67" fill="#4c7ab7"/>
<rect x="447.00" y="589.11" width="15.72" height="15.67" fill="#d52a2a"/>
<rect x="462.72" y="589.11" width="15.72" height="15.67" fill="#7facd1"/>
<rect x="478.44" y="589.11" width="15.72" height="15.67" fill="#4c7ab7"/>
<rect x="494.16" y="589.11" width="15.72" height="15.67" fill="#5885bd"/>
<rect x="431.28" y="604.78" width="15.72" height="15.67" fill="#d52a2a"/>
<rect x="447.00" y="604.78" width="15.72" height="15.67" fill="#8ab7d7"/>
<rect x="462.72" y="604.78" width="15.72" height="15.67" fill="#6490c3"/>
<rect x="478.44" y="604.78" width="15.72" height="15.67" fill="#6490c3"/>
<rect x="494.16" y="604.78" width="15.72" height="15.67" fill="#6490c3"/>
<rect x="415.56" y="620.45" width="15.72" height="15.67" fill="#d52a2a"/>
<rect x="431.28" y="620.45" width="15.72" height="15.67" fill="#d6ecf4"/>
<rect x="447.00" y="620.45" width="15.72" height="15.67" fill="#6995c6"/>
<rect x="462.72" y="620.45" width="15.72" height="15.67" fill="#85b2d4"/>
<rect x="478.44" y="620.45" width="15.72" height="15.67" fill="#5885bd"/>
<rect x="494.16" y="620.45" width="15.72" height="15.67" fill="#5280ba"/>
<rect x="399.84" y="636.12" width="15.72" height="15.67" fill="#d52a2a"/>
<rect x="415.56" y="636.12" width="15.72" height="15.67" fill="#dcf0f7"/>
<rect x="431.28" y="636.12" width="15.72" height="15.67" fill="#a1c9e1"/>
<rect x="447.00" y="636.12" width="15.72" height="15.67" fill="#7aa6ce"/>
<rect x="462.72" y="636.12" width="15.72" height="15.67" fill="#6490c3"/>
<rect x="478.44" y="636.12" width="15.72" height="15.67" fill="#5885bd"/>
<rect x="494.16" y="636.12" width="15.72" height="15.67" fill="#4c7ab7"/>
<rect x="384.12" y="651.79" width="15.72" height="15.67" fill="#d52a2a"/>
<rect x="399.84" y="651.79" width="15.72" height="15.67" fill="#fffdbb"/>
<rect x="415.56" y="651.79" width="15.72" height="15.67" fill="#cbe4f0"/>
<rect x="431.28" y="651.79" width="15.72" height="15.67" fill="#a7cde3"/>
<rect x="447.00" y="651.79" width="15.72" height="15.67" fill="#74a1cb"/>
<rect x="462.72" y="651.79" width="15.72" height="15.67" fill="#5885bd"/>
<rect x="478.44" y="651.79" width="15.72" height="15.67" fill="#5885bd"/>
<rect x="494.16" y="651.79" width="15.72" height="15.67" fill="#5885bd"/>
<rect x="368.40" y="667.46" width="15.72" height="15.67" fill="#d52a2a"/>
<rect x="384.12" y="667.46" width="15.72" height="15.67" fill="#6f9bc9"/>
<rect x="399.84" y="667.46" width="15.72" height="15.67" fill="#6490c3"/>
<rect x="415.56" y="667.46" width="15.72" height="15.67" fill="#6995c6"/>
<rect x="431.28" y="667.46" width="15.72" height="15.67" fill="#6f9bc9"/>
<rect x="447.00" y="667.46" width="15.72" height="15.67" fill="#6995c6"/>
<rect x="462.72" y="667.46" width="15.72" height="15.67" fill="#74a1cb"/>
<rect x="478.44" y="667.46" width="15.72" height="15.67" fill="#5280ba"/>
<rect x="494.16" y="667.46" width="15.72" height="15.67" fill="#6995c6"/>
<rect x="352.68" y="683.13" width="15.72" height="15.67" fill="#d52a2a"/>
<rect x="368.40" y="683.13" width="15.72" height="15.67" fill="#cbe4f0"/>
<rect x="384.12" y="683.13" width="15.72" height="15.67" fill="#6f9bc9"/>
<rect x="399.84" y="683.13" width="15.72" height="15.67" fill="#6f9bc9"/>
<rect x="415.56" y="683.13" width="15.72" height="15.67" fill="#7aa6ce"/>
<rect x="431.28" y="683.13" width="15.72" height="15.67" fill="#7facd1"/>
<rect x="447.00" y="683.13" width="15.72" height="15.67" fill="#6490c3"/>
<rect x="462.72" y="683.13" width="15.72" height="15.67" fill="#74a1cb"/>
<rect x="478.44" y="683.13" width="15.72" height="15.67" fill="#6490c3"/>
<rect x="494.16" y="683.13" width="15.72" height="15.67" fill="#85b2d4"/>
<rect x="336.96" y="698.80" width="15.72" height="15.67" fill="#d52a2a"/>
<rect x="352.68" y="698.80" width="15.72" height="15.67" fill="#b9d9e9"/>
<rect x="368.40" y="698.80" width="15.72" height="15.67" fill="#9bc5df"/>
<rect x="384.12" y="698.80" width="15.72" height="15.67" fill="#6995c6"/>
<rect x="399.84" y="698.80" width="15.72" height="15.67" fill="#6995c6"/>
<rect x="415.56" y="698.80" width="15.72" height="15.67" fill="#5885bd"/>
<rect x="431.28" y="698.80" width="15.72" height="15.67" fill="#7facd1"/>
<rect x="447.00" y="698.80" width="15.72" height="15.67" fill="#74a1cb"/>
<rect x="462.72" y="698.80" width="15.72" height="15.67" fill="#7aa6ce"/>
<rect x="478.44" y="698.80" width="15.72" height="15.67" fill="#6490c3"/>
<rect x="494.16" y="698.80" width="15.72" height="15.67" fill="#5280ba"/>
<rect x="321.24" y="714.47" width="15.72" height="15.67" fill="#d52a2a"/>
<rect x="336.96" y="714.47" width="15.72" height="15.67" fill="#f07149"/>
<rect x="352.68" y="714.47" width="15.72" height="15.67" fill="#c5e1ee"/>
<rect x="368.40" y="714.47" width="15.72" height="15.67" fill="#add1e5"/>
<rect x="384.12" y="714.47" width="15.72" height="15.67" fill="#6490c3"/>
<rect x="399.84" y="714.47" width="15.72" height="15.67" fill="#74a1cb"/>
<rect x="415.56" y="714.47" width="15.72" height="15.67" fill="#8ab7d7"/>
<rect x="431.28" y="714.47" width="15.72" height="15.67" fill="#a7cde3"/>
<rect x="447.00" y="714.47" width="15.72" height="15.67" fill="#7aa6ce"/>
<rect x="462.72" y="714.47" width="15.72" height="15.67" fill="#4575b4"/>
<rect x="478.44" y="714.47" width="15.72" height="15.67" fill="#7aa6ce"/>
<rect x="494.16" y="714.47" width="15.72" height="15.67" fill="#6f9bc9"/>
<rect x="305.52" y="730.14" width="15.72" height="15.67" fill="#d52a2a"/>
<rect x="321.24" y="730.14" width="15.72" height="15.67" fill="#ffe598"/>
<rect x="336.96" y="730.14" width="15.72" height="15.67" fill="#fff6b1"/>
<rect x="352.68" y="730.14" width="15.72" height="15.67" fill="#a7cde3"/>
<rect x="368.40" y="730.14" width="15.72" height="15.67" fill="#a7cde3"/>
<rect x="384.12" y="730.14" width="15.72" height="15.67" fill="#7aa6ce"/>
<rect x="399.84" y="730.14" width="15.72" height="15.67" fill="#7aa6ce"/>
<rect x="415.56" y="730.14" width="15.72" height="15.67" fill="#8fbdda"/>
<rect x="431.28" y="730.14" width="15.72" height="15.67" fill="#8fbdda"/>
<rect x="447.00" y="730.14" width="15.72" height="15.67" fill="#6f9bc9"/>
<rect x="462.72" y="730.14" width="15.72" height="15.67" fill="#74a1cb"/>
<rect x="478.44" y="730.14" width="15.72" height="15.67" fill="#7aa6ce"/>
<rect x="494.16" y="730.14" width="15.72" height="15.67" fill="#6490c3"/>
<rect x="289.80" y="745.81" width="15.72" height="15.67" fill="#d52a2a"/>
<rect x="305.52" y="745.81" width="15.72" height="15.67" fill="#eef8e1"/>
<rect x="321.24" y="745.81" width="15.72" height="15.67" fill="#f3f9d9"/>
<rect x="336.96" y="745.81" width="15.72" height="15.67" fill="#dcf0f7"/>
<rect x="352.68" y="745.81" width="15.72" height="15.67" fill="#a7cde3"/>
<rect x="368.40" y="745.81" width="15.72" height="15.67" fill="#95c2dc"/>
<rect x="384.12" y="745.81" width="15.72" height="15.67" fill="#7facd1"/>
<rect x="399.84" y="745.81" width="15.72" height="15.67" fill="#7facd1"/>
<rect x="415.56" y="745.81" width="15.72" height="15.67" fill="#85b2d4"/>
<rect x="431.28" y="745.81" width="15.72" height="15.67" fill="#85b2d4"/>
<rect x="447.00" y="745.81" width="15.72" height="15.67" fill="#6995c6"/>
<rect x="462.72" y="745.81" width="15.72" height="15.67" fill="#8ab7d7"/>
<rect x="478.44" y="745.81" width="15.72" height="15.67" fill="#6995c6"/>
<rect x="494.16" y="745.81" width="15.72" height="15.67" fill="#7aa6ce"/>
<rect x="274.08" y="761.48" width="15.72" height="15.67" fill="#d52a2a"/>
<rect x="289.80" y="761.48" width="15.72" height="15.67" fill="#6f9bc9"/>
<rect x="305.52" y="761.48" width="15.72" height="15.67" fill="#6f9bc9"/>
<rect x="321.24" y="761.48" width="15.72" height="15.67" fill="#5e8ac0"/>
<rect x="336.96" y="761.48" width="15.72" height="15.67" fill="#6490c3"/>
<rect x="352.68" y="761.48" width="15.72" height="15.67" fill="#6f9bc9"/>
<rect x="368.40" y="761.48" width="15.72" height="15.67" fill="#6f9bc9"/>
<rect x="384.12" y="761.48" width="15.72" height="15.67" fill="#6490c3"/>
<rect x="399.84" y="761.48" width="15.72" height="15.67" fill="#5e8ac0"/>
<rect x="415.56" y="761.48" width="15.72" height="15.67" fill="#6995c6"/>
<rect x="431.28" y="761.48" width="15.72" height="15.67" fill="#6490c3"/>
<rect x="447.00" y="761.48" width="15.72" height="15.67" fill="#6995c6"/>
<rect x="462.72" y="761.48" width="15.72" height="15.67" fill="#8ab7d7"/>
<rect x="478.44" y="761.48" width="15.72" height="15.67" fill="#5e8ac0"/>
<rect x="494.16" y="761.48" width="15.72" height="15.67" fill="#5e8ac0"/>
<rect x="258.36" y="777.15" width="15.72" height="15.67" fill="#d52a2a"/>
<rect x="274.08" y="777.15" width="15.72" height="15.67" fill="#8fbdda"/>
<rect x="289.80" y="777.15" width="15.72" height="15.67" fill="#85b2d4"/>
<rect x="305.52" y="777.15" width="15.72" height="15.67" fill="#8ab7d7"/>
<rect x="321.24" y="777.15" width="15.72" height="15.67" fill="#7facd1"/>
<rect x="336.96" y="777.15" width="15.72" height="15.67" fill="#85b2d4"/>
<rect x="352.68" y="777.15" width="15.72" height="15.67" fill="#74a1cb"/>
<rect x="368.40" y="777.15" width="15.72" height="15.67" fill="#74a1cb"/>
<rect x="384.12" y="777.15" width="15.72" height="15.67" fill="#74a1cb"/>
<rect x="399.84" y="777.15" width="15.72" height="15.67" fill="#6995c6"/>
<rect x="415.56" y="777.15" width="15.72" height="15.67" fill="#74a1cb"/>
<rect x="431.28" y="777.15" width="15.72" height="15.67" fill="#7aa6ce"/>
<rect x="447.00" y="777.15" width="15.72" height="15.67" fill="#6490c3"/>
<rect x="462.72" y="777.15" width="15.72" height="15.67" fill="#7aa6ce"/>
<rect x="478.44" y="777.15" width="15.72" height="15.67" fill="#5280ba"/>
<rect x="494.16" y="777.15" width="15.72" height="15.67" fill="#5e8ac0"/>
<rect x="242.64" y="792.82" width="15.72" height="15.67" fill="#d52a2a"/>
<rect x="258.36" y="792.82" width="15.72" height="15.67" fill="#e9f6ea"/>
<rect x="274.08" y="792.82" width="15.72" height="15.67" fill="#8fbdda"/>
<rect x="289.80" y="792.82" width="15.72" height="15.67" fill="#8fbdda"/>
<rect x="305.52" y="792.82" width="15.72" height="15.67" fill="#b3d5e7"/>
<rect x="321.24" y="792.82" width="15.72" height="15.67" fill="#add1e5"/>
<rect x="336.96" y="792.82" width="15.72" height="15.67" fill="#add1e5"/>
<rect x="352.68" y="792.82" width="15.72" height="15.67" fill="#7aa6ce"/>
<rect x="368.40" y="792.82" width="15.72" height="15.67" fill="#95c2dc"/>
<rect x="384.12" y="792.82" width="15.72" height="15.67" fill="#6f9bc9"/>
<rect x="399.84" y="792.82" width="15.72" height="15.67" fill="#6995c6"/>
<rect x="415.56" y="792.82" width="15.72" height="15.67" fill="#7aa6ce"/>
<rect x="431.28" y="792.82" width="15.72" height="15.67" fill="#7facd1"/>
<rect x="447.00" y="792.82" width="15.72" height="15.67" fill="#6995c6"/>
<rect x="462.72" y="792.82" width="15.72" height="15.67" fill="#6490c3"/>
<rect x="478.44" y="792.82" width="15.72" height="15.67" fill="#5e8ac0"/>
<rect x="494.16" y="792.82" width="15.72" height="15.67" fill="#6f9bc9"/>
<rect x="226.92" y="808.49" width="15.72" height="15.67" fill="#d52a2a"/>
<rect x="242.64" y="808.49" width="15.72" height="15.67" fill="#d6ecf4"/>
<rect x="258.36" y="808.49" width="15.72" height="15.67" fill="#dcf0f7"/>
<rect x="274.08" y="808.49" width="15.72" height="15.67" fill="#95c2dc"/>
<rect x="289.80" y="808.49" width="15.72" height="15.67" fill="#9bc5df"/>
<rect x="305.52" y="808.49" width="15.72" height="15.67" fill="#add1e5"/>
<rect x="321.24" y="808.49" width="15.72" height="15.67" fill="#9bc5df"/>
<rect x="336.96" y="808.49" width="15.72" height="15.67" fill="#85b2d4"/>
<rect x="352.68" y="808.49" width="15.72" height="15.67" fill="#7aa6ce"/>
<rect x="368.40" y="808.49" width="15.72" height="15.67" fill="#74a1cb"/>
<rect x="384.12" y="808.49" width="15.72" height="15.67" fill="#85b2d4"/>
<rect x="399.84" y="808.49" width="15.72" height="15.67" fill="#7facd1"/>
<rect x="415.56" y="808.49" width="15.72" height="15.67" fill="#7aa6ce"/>
<rect x="431.28" y="808.49" width="15.72" height="15.67" fill="#7facd1"/>
<rect x="447.00" y="808.49" width="15.72" height="15.67" fill="#74a1cb"/>
<rect x="462.72" y="808.49" width="15.72" height="15.67" fill="#6f9bc9"/>
<rect x="478.44" y="808.49" width="15.72" height="15.67" fill="#6490c3"/>
<rect x="494.16" y="808.49" width="15.72" height="15.67" fill="#5e8ac0"/>
<rect x="211.20" y="824.16" width="15.72" height="15.67" fill="#d52a2a"/>
<rect x="226.92" y="824.16" width="15.72" height="15.67" fill="#ffc47c"/>
<rect x="242.64" y="824.16" width="15.72" height="15.67" fill="#d6ecf4"/>
<rect x="258.36" y="824.16" width="15.72" height="15.67" fill="#dcf0f7"/>
<rect x="274.08" y="824.16" width="15.72" height="15.67" fill="#a1c9e1"/>
<rect x="289.80" y="824.16" width="15.72" height="15.67" fill="#9bc5df"/>
<rect x="305.52" y="824.16" width="15.72" height="15.67" fill="#b3d5e7"/>
<rect x="321.24" y="824.16" width="15.72" height="15.67" fill="#9bc5df"/>
<rect x="336.96" y="824.16" width="15.72" height="15.67" fill="#8fbdda"/>
<rect x="352.68" y="824.16" width="15.72" height="15.67" fill="#7aa6ce"/>
<rect x="368.40" y="824.16" width="15.72" height="15.67" fill="#7aa6ce"/>
<rect x="384.12" y="824.16" width="15.72" height="15.67" fill="#8ab7d7"/>
<rect x="399.84" y="824.16" width="15.72" height="15.67" fill="#7facd1"/>
<rect x="415.56" y="824.16" width="15.72" height="15.67" fill="#a1c9e1"/>
<rect x="431.28" y="824.16" width="15.72" height="15.67" fill="#8fbdda"/>
<rect x="447.00" y="824.16" width="15.72" height="15.67" fill="#7facd1"/>
<rect x="462.72" y="824.16" width="15.72" height="15.67" fill="#5e8ac0"/>
<rect x="478.44" y="824.16" width="15.72" height="15.67" fill="#6f9bc9"/>
<rect x="494.16" y="824.16" width="15.72" height="15.67" fill="#5885bd"/>
<path d="M494.16 542.10H509.88M478.44 557.77H509.88M462.72 573.44H509.88M447.00 589.11H509.88M431.28 604.78H509.88M415.56 620.45H509.88M399.84 636.12H509.88M384.12 651.79H509.88M368.40 667.46H509.88M352.68 683.13H509.88M336.96 698.80H509.88M321.24 714.47H509.88M305.52 730.14H509.88M289.80 745.81H509.88M274.08 761.48H509.88M258.36 777.15H509.88M242.64 792.82H509.88M226.92 808.49H509.88M211.20 824.16H509.88M211.20 839.83H509.88M211.20 824.16V839.83M226.92 808.49V839.83M242.64 792.82V839.83M258.36 777.15V839.83M274.08 761.48V839.83M289.80 745.81V839.83M305.52 730.14V839.83M321.24 714.47V839.83M336.96 698.80V839.83M352.68 683.13V839.83M368.40 667.46V839.83M384.12 651.79V839.83M399.84 636.12V839.83M415.56 620.45V839.83M431.28 604.78V839.83M447.00 589.11V839.83M462.72 573.44V839.83M478.44 557.77V839.83M494.16 542.10V839.83M509.88 542.10V839.83" stroke="rgba(10,20,45,0.8)" stroke-width="0.9" fill="none"/>
<text transform="translate(502.32,551.54) scale(1,1.05)" font-size="5.8" text-anchor="middle" fill="#6e1414" stroke="#6e1414" stroke-width="0.12">1</text>
<text transform="translate(486.60,567.21) scale(1,1.05)" font-size="5.8" text-anchor="middle" fill="#6e1414" stroke="#6e1414" stroke-width="0.12">1</text>
<text transform="translate(502.82,567.21) scale(1,1.05)" font-size="5.8" text-anchor="middle" fill="#303030" stroke="#303030" stroke-width="0.12">0.74</text>
<text transform="translate(470.88,582.88) scale(1,1.05)" font-size="5.8" text-anchor="middle" fill="#6e1414" stroke="#6e1414" stroke-width="0.12">1</text>
<text transform="translate(487.10,582.88) scale(1,1.05)" font-size="5.8" text-anchor="middle" fill="#303030" stroke="#303030" stroke-width="0.12">0.31</text>
<text transform="translate(502.82,582.88) scale(1,1.05)" font-size="5.8" text-anchor="middle" fill="#303030" stroke="#303030" stroke-width="0.12">0.21</text>
<text transform="translate(455.16,598.55) scale(1,1.05)" font-size="5.8" text-anchor="middle" fill="#6e1414" stroke="#6e1414" stroke-width="0.12">1</text>
<text transform="translate(471.18,598.55) scale(1,1.05)" font-size="5.8" text-anchor="middle" fill="#303030" stroke="#303030" stroke-width="0.12">0.3</text>
<text transform="translate(487.10,598.55) scale(1,1.05)" font-size="5.8" text-anchor="middle" fill="#303030" stroke="#303030" stroke-width="0.12">0.21</text>
<text transform="translate(502.82,598.55) scale(1,1.05)" font-size="5.8" text-anchor="middle" fill="#303030" stroke="#303030" stroke-width="0.12">0.23</text>
<text transform="translate(439.44,614.22) scale(1,1.05)" font-size="5.8" text-anchor="middle" fill="#6e1414" stroke="#6e1414" stroke-width="0.12">1</text>
<text transform="translate(455.66,614.22) scale(1,1.05)" font-size="5.8" text-anchor="middle" fill="#303030" stroke="#303030" stroke-width="0.12">0.32</text>
<text transform="translate(471.38,614.22) scale(1,1.05)" font-size="5.8" text-anchor="middle" fill="#303030" stroke="#303030" stroke-width="0.12">0.25</text>
<text transform="translate(487.10,614.22) scale(1,1.05)" font-size="5.8" text-anchor="middle" fill="#303030" stroke="#303030" stroke-width="0.12">0.25</text>
<text transform="translate(502.82,614.22) scale(1,1.05)" font-size="5.8" text-anchor="middle" fill="#303030" stroke="#303030" stroke-width="0.12">0.25</text>
<text transform="translate(423.72,629.89) scale(1,1.05)" font-size="5.8" text-anchor="middle" fill="#6e1414" stroke="#6e1414" stroke-width="0.12">1</text>
<text transform="translate(439.94,629.89) scale(1,1.05)" font-size="5.8" text-anchor="middle" fill="#303030" stroke="#303030" stroke-width="0.12">0.45</text>
<text transform="translate(455.66,629.89) scale(1,1.05)" font-size="5.8" text-anchor="middle" fill="#303030" stroke="#303030" stroke-width="0.12">0.26</text>
<text transform="translate(471.38,629.89) scale(1,1.05)" font-size="5.8" text-anchor="middle" fill="#303030" stroke="#303030" stroke-width="0.12">0.31</text>
<text transform="translate(487.10,629.89) scale(1,1.05)" font-size="5.8" text-anchor="middle" fill="#303030" stroke="#303030" stroke-width="0.12">0.23</text>
<text transform="translate(502.82,629.89) scale(1,1.05)" font-size="5.8" text-anchor="middle" fill="#303030" stroke="#303030" stroke-width="0.12">0.22</text>
<text transform="translate(408.00,645.56) scale(1,1.05)" font-size="5.8" text-anchor="middle" fill="#6e1414" stroke="#6e1414" stroke-width="0.12">1</text>
<text transform="translate(424.22,645.56) scale(1,1.05)" font-size="5.8" text-anchor="middle" fill="#303030" stroke="#303030" stroke-width="0.12">0.46</text>
<text transform="translate(439.94,645.56) scale(1,1.05)" font-size="5.8" text-anchor="middle" fill="#303030" stroke="#303030" stroke-width="0.12">0.36</text>
<text transform="translate(455.66,645.56) scale(1,1.05)" font-size="5.8" text-anchor="middle" fill="#303030" stroke="#303030" stroke-width="0.12">0.29</text>
<text transform="translate(471.38,645.56) scale(1,1.05)" font-size="5.8" text-anchor="middle" fill="#303030" stroke="#303030" stroke-width="0.12">0.25</text>
<text transform="translate(487.10,645.56) scale(1,1.05)" font-size="5.8" text-anchor="middle" fill="#303030" stroke="#303030" stroke-width="0.12">0.23</text>
<text transform="translate(502.82,645.56) scale(1,1.05)" font-size="5.8" text-anchor="middle" fill="#303030" stroke="#303030" stroke-width="0.12">0.21</text>
<text transform="translate(392.28,661.23) scale(1,1.05)" font-size="5.8" text-anchor="middle" fill="#6e1414" stroke="#6e1414" stroke-width="0.12">1</text>
<text transform="translate(408.50,661.23) scale(1,1.05)" font-size="5.8" text-anchor="middle" fill="#303030" stroke="#303030" stroke-width="0.12">0.61</text>
<text transform="translate(424.22,661.23) scale(1,1.05)" font-size="5.8" text-anchor="middle" fill="#303030" stroke="#303030" stroke-width="0.12">0.43</text>
<text transform="translate(439.94,661.23) scale(1,1.05)" font-size="5.8" text-anchor="middle" fill="#303030" stroke="#303030" stroke-width="0.12">0.37</text>
<text transform="translate(455.66,661.23) scale(1,1.05)" font-size="5.8" text-anchor="middle" fill="#303030" stroke="#303030" stroke-width="0.12">0.28</text>
<text transform="translate(471.38,661.23) scale(1,1.05)" font-size="5.8" text-anchor="middle" fill="#303030" stroke="#303030" stroke-width="0.12">0.23</text>
<text transform="translate(487.10,661.23) scale(1,1.05)" font-size="5.8" text-anchor="middle" fill="#303030" stroke="#303030" stroke-width="0.12">0.23</text>
<text transform="translate(502.82,661.23) scale(1,1.05)" font-size="5.8" text-anchor="middle" fill="#303030" stroke="#303030" stroke-width="0.12">0.23</text>
<text transform="translate(376.56,676.90) scale(1,1.05)" font-size="5.8" text-anchor="middle" fill="#6e1414" stroke="#6e1414" stroke-width="0.12">1</text>
<text transform="translate(392.78,676.90) scale(1,1.05)" font-size="5.8" text-anchor="middle" fill="#303030" stroke="#303030" stroke-width="0.12">0.27</text>
<text transform="translate(408.50,676.90) scale(1,1.05)" font-size="5.8" text-anchor="middle" fill="#303030" stroke="#303030" stroke-width="0.12">0.25</text>
<text transform="translate(424.22,676.90) scale(1,1.05)" font-size="5.8" text-anchor="middle" fill="#303030" stroke="#303030" stroke-width="0.12">0.26</text>
<text transform="translate(439.94,676.90) scale(1,1.05)" font-size="5.8" text-anchor="middle" fill="#303030" stroke="#303030" stroke-width="0.12">0.27</text>
<text transform="translate(455.66,676.90) scale(1,1.05)" font-size="5.8" text-anchor="middle" fill="#303030" stroke="#303030" stroke-width="0.12">0.26</text>
<text transform="translate(471.38,676.90) scale(1,1.05)" font-size="5.8" text-anchor="middle" fill="#303030" stroke="#303030" stroke-width="0.12">0.28</text>
<text transform="translate(487.10,676.90) scale(1,1.05)" font-size="5.8" text-anchor="middle" fill="#303030" stroke="#303030" stroke-width="0.12">0.22</text>
<text transform="translate(502.82,676.90) scale(1,1.05)" font-size="5.8" text-anchor="middle" fill="#303030" stroke="#303030" stroke-width="0.12">0.26</text>
<text transform="translate(360.84,692.57) scale(1,1.05)" font-size="5.8" text-anchor="middle" fill="#6e1414" stroke="#6e1414" stroke-width="0.12">1</text>
<text transform="translate(377.06,692.57) scale(1,1.05)" font-size="5.8" text-anchor="middle" fill="#303030" stroke="#303030" stroke-width="0.12">0.43</text>
<text transform="translate(392.78,692.57) scale(1,1.05)" font-size="5.8" text-anchor="middle" fill="#303030" stroke="#303030" stroke-width="0.12">0.27</text>
<text transform="translate(408.50,692.57) scale(1,1.05)" font-size="5.8" text-anchor="middle" fill="#303030" stroke="#303030" stroke-width="0.12">0.27</text>
<text transform="translate(424.22,692.57) scale(1,1.05)" font-size="5.8" text-anchor="middle" fill="#303030" stroke="#303030" stroke-width="0.12">0.29</text>
<text transform="translate(439.74,692.57) scale(1,1.05)" font-size="5.8" text-anchor="middle" fill="#303030" stroke="#303030" stroke-width="0.12">0.3</text>
<text transform="translate(455.66,692.57) scale(1,1.05)" font-size="5.8" text-anchor="middle" fill="#303030" stroke="#303030" stroke-width="0.12">0.25</text>
<text transform="translate(471.38,692.57) scale(1,1.05)" font-size="5.8" text-anchor="middle" fill="#303030" stroke="#303030" stroke-width="0.12">0.28</text>
<text transform="translate(487.10,692.57) scale(1,1.05)" font-size="5.8" text-anchor="middle" fill="#303030" stroke="#303030" stroke-width="0.12">0.25</text>
<text transform="translate(502.82,692.57) scale(1,1.05)" font-size="5.8" text-anchor="middle" fill="#303030" stroke="#303030" stroke-width="0.12">0.31</text>
<text transform="translate(345.12,708.24) scale(1,1.05)" font-size="5.8" text-anchor="middle" fill="#6e1414" stroke="#6e1414" stroke-width="0.12">1</text>
<text transform="translate(361.14,708.24) scale(1,1.05)" font-size="5.8" text-anchor="middle" fill="#303030" stroke="#303030" stroke-width="0.12">0.4</text>
<text transform="translate(377.06,708.24) scale(1,1.05)" font-size="5.8" text-anchor="middle" fill="#303030" stroke="#303030" stroke-width="0.12">0.35</text>
<text transform="translate(392.78,708.24) scale(1,1.05)" font-size="5.8" text-anchor="middle" fill="#303030" stroke="#303030" stroke-width="0.12">0.26</text>
<text transform="translate(408.50,708.24) scale(1,1.05)" font-size="5.8" text-anchor="middle" fill="#303030" stroke="#303030" stroke-width="0.12">0.26</text>
<text transform="translate(424.22,708.24) scale(1,1.05)" font-size="5.8" text-anchor="middle" fill="#303030" stroke="#303030" stroke-width="0.12">0.23</text>
<text transform="translate(439.74,708.24) scale(1,1.05)" font-size="5.8" text-anchor="middle" fill="#303030" stroke="#303030" stroke-width="0.12">0.3</text>
<text transform="translate(455.66,708.24) scale(1,1.05)" font-size="5.8" text-anchor="middle" fill="#303030" stroke="#303030" stroke-width="0.12">0.28</text>
<text transform="translate(471.38,708.24) scale(1,1.05)" font-size="5.8" text-anchor="middle" fill="#303030" stroke="#303030" stroke-width="0.12">0.29</text>
<text transform="translate(487.10,708.24) scale(1,1.05)" font-size="5.8" text-anchor="middle" fill="#303030" stroke="#303030" stroke-width="0.12">0.25</text>
<text transform="translate(502.82,708.24) scale(1,1.05)" font-size="5.8" text-anchor="middle" fill="#303030" stroke="#303030" stroke-width="0.12">0.22</text>
<text transform="translate(329.40,723.91) scale(1,1.05)" font-size="5.8" text-anchor="middle" fill="#6e1414" stroke="#6e1414" stroke-width="0.12">1</text>
<text transform="translate(345.62,723.91) scale(1,1.05)" font-size="5.8" text-anchor="middle" fill="#303030" stroke="#303030" stroke-width="0.12">0.91</text>
<text transform="translate(361.34,723.91) scale(1,1.05)" font-size="5.8" text-anchor="middle" fill="#303030" stroke="#303030" stroke-width="0.12">0.42</text>
<text transform="translate(377.06,723.91) scale(1,1.05)" font-size="5.8" text-anchor="middle" fill="#303030" stroke="#303030" stroke-width="0.12">0.38</text>
<text transform="translate(392.78,723.91) scale(1,1.05)" font-size="5.8" text-anchor="middle" fill="#303030" stroke="#303030" stroke-width="0.12">0.25</text>
<text transform="translate(408.50,723.91) scale(1,1.05)" font-size="5.8" text-anchor="middle" fill="#303030" stroke="#303030" stroke-width="0.12">0.28</text>
<text transform="translate(424.22,723.91) scale(1,1.05)" font-size="5.8" text-anchor="middle" fill="#303030" stroke="#303030" stroke-width="0.12">0.32</text>
<text transform="translate(439.94,723.91) scale(1,1.05)" font-size="5.8" text-anchor="middle" fill="#303030" stroke="#303030" stroke-width="0.12">0.37</text>
<text transform="translate(455.66,723.91) scale(1,1.05)" font-size="5.8" text-anchor="middle" fill="#303030" stroke="#303030" stroke-width="0.12">0.29</text>
<text transform="translate(471.18,723.91) scale(1,1.05)" font-size="5.8" text-anchor="middle" fill="#303030" stroke="#303030" stroke-width="0.12">0.2</text>
<text transform="translate(487.10,723.91) scale(1,1.05)" font-size="5.8" text-anchor="middle" fill="#303030" stroke="#303030" stroke-width="0.12">0.29</text>
<text transform="translate(502.82,723.91) scale(1,1.05)" font-size="5.8" text-anchor="middle" fill="#303030" stroke="#303030" stroke-width="0.12">0.27</text>
<text transform="translate(313.68,739.58) scale(1,1.05)" font-size="5.8" text-anchor="middle" fill="#6e1414" stroke="#6e1414" stroke-width="0.12">1</text>
<text transform="translate(329.90,739.58) scale(1,1.05)" font-size="5.8" text-anchor="middle" fill="#303030" stroke="#303030" stroke-width="0.12">0.71</text>
<text transform="translate(345.62,739.58) scale(1,1.05)" font-size="5.8" text-anchor="middle" fill="#303030" stroke="#303030" stroke-width="0.12">0.64</text>
<text transform="translate(361.34,739.58) scale(1,1.05)" font-size="5.8" text-anchor="middle" fill="#303030" stroke="#303030" stroke-width="0.12">0.37</text>
<text transform="translate(377.06,739.58) scale(1,1.05)" font-size="5.8" text-anchor="middle" fill="#303030" stroke="#303030" stroke-width="0.12">0.37</text>
<text transform="translate(392.78,739.58) scale(1,1.05)" font-size="5.8" text-anchor="middle" fill="#303030" stroke="#303030" stroke-width="0.12">0.29</text>
<text transform="translate(408.50,739.58) scale(1,1.05)" font-size="5.8" text-anchor="middle" fill="#303030" stroke="#303030" stroke-width="0.12">0.29</text>
<text transform="translate(424.22,739.58) scale(1,1.05)" font-size="5.8" text-anchor="middle" fill="#303030" stroke="#303030" stroke-width="0.12">0.33</text>
<text transform="translate(439.94,739.58) scale(1,1.05)" font-size="5.8" text-anchor="middle" fill="#303030" stroke="#303030" stroke-width="0.12">0.33</text>
<text transform="translate(455.66,739.58) scale(1,1.05)" font-size="5.8" text-anchor="middle" fill="#303030" stroke="#303030" stroke-width="0.12">0.27</text>
<text transform="translate(471.38,739.58) scale(1,1.05)" font-size="5.8" text-anchor="middle" fill="#303030" stroke="#303030" stroke-width="0.12">0.28</text>
<text transform="translate(487.10,739.58) scale(1,1.05)" font-size="5.8" text-anchor="middle" fill="#303030" stroke="#303030" stroke-width="0.12">0.29</text>
<text transform="translate(502.82,739.58) scale(1,1.05)" font-size="5.8" text-anchor="middle" fill="#303030" stroke="#303030" stroke-width="0.12">0.25</text>
<text transform="translate(297.96,755.25) scale(1,1.05)" font-size="5.8" text-anchor="middle" fill="#6e1414" stroke="#6e1414" stroke-width="0.12">1</text>
<text transform="translate(314.18,755.25) scale(1,1.05)" font-size="5.8" text-anchor="middle" fill="#303030" stroke="#303030" stroke-width="0.12">0.52</text>
<text transform="translate(329.90,755.25) scale(1,1.05)" font-size="5.8" text-anchor="middle" fill="#303030" stroke="#303030" stroke-width="0.12">0.54</text>
<text transform="translate(345.62,755.25) scale(1,1.05)" font-size="5.8" text-anchor="middle" fill="#303030" stroke="#303030" stroke-width="0.12">0.46</text>
<text transform="translate(361.34,755.25) scale(1,1.05)" font-size="5.8" text-anchor="middle" fill="#303030" stroke="#303030" stroke-width="0.12">0.37</text>
<text transform="translate(377.06,755.25) scale(1,1.05)" font-size="5.8" text-anchor="middle" fill="#303030" stroke="#303030" stroke-width="0.12">0.34</text>
<text transform="translate(392.58,755.25) scale(1,1.05)" font-size="5.8" text-anchor="middle" fill="#303030" stroke="#303030" stroke-width="0.12">0.3</text>
<text transform="translate(408.30,755.25) scale(1,1.05)" font-size="5.8" text-anchor="middle" fill="#303030" stroke="#303030" stroke-width="0.12">0.3</text>
<text transform="translate(424.22,755.25) scale(1,1.05)" font-size="5.8" text-anchor="middle" fill="#303030" stroke="#303030" stroke-width="0.12">0.31</text>
<text transform="translate(439.94,755.25) scale(1,1.05)" font-size="5.8" text-anchor="middle" fill="#303030" stroke="#303030" stroke-width="0.12">0.31</text>
<text transform="translate(455.66,755.25) scale(1,1.05)" font-size="5.8" text-anchor="middle" fill="#303030" stroke="#303030" stroke-width="0.12">0.26</text>
<text transform="translate(471.38,755.25) scale(1,1.05)" font-size="5.8" text-anchor="middle" fill="#303030" stroke="#303030" stroke-width="0.12">0.32</text>
<text transform="translate(487.10,755.25) scale(1,1.05)" font-size="5.8" text-anchor="middle" fill="#303030" stroke="#303030" stroke-width="0.12">0.26</text>
<text transform="translate(502.82,755.25) scale(1,1.05)" font-size="5.8" text-anchor="middle" fill="#303030" stroke="#303030" stroke-width="0.12">0.29</text>
<text transform="translate(282.24,770.92) scale(1,1.05)" font-size="5.8" text-anchor="middle" fill="#6e1414" stroke="#6e1414" stroke-width="0.12">1</text>
<text transform="translate(298.46,770.92) scale(1,1.05)" font-size="5.8" text-anchor="middle" fill="#303030" stroke="#303030" stroke-width="0.12">0.27</text>
<text transform="translate(314.18,770.92) scale(1,1.05)" font-size="5.8" text-anchor="middle" fill="#303030" stroke="#303030" stroke-width="0.12">0.27</text>
<text transform="translate(329.90,770.92) scale(1,1.05)" font-size="5.8" text-anchor="middle" fill="#303030" stroke="#303030" stroke-width="0.12">0.24</text>
<text transform="translate(345.62,770.92) scale(1,1.05)" font-size="5.8" text-anchor="middle" fill="#303030" stroke="#303030" stroke-width="0.12">0.25</text>
<text transform="translate(361.34,770.92) scale(1,1.05)" font-size="5.8" text-anchor="middle" fill="#303030" stroke="#303030" stroke-width="0.12">0.27</text>
<text transform="translate(377.06,770.92) scale(1,1.05)" font-size="5.8" text-anchor="middle" fill="#303030" stroke="#303030" stroke-width="0.12">0.27</text>
<text transform="translate(392.78,770.92) scale(1,1.05)" font-size="5.8" text-anchor="middle" fill="#303030" stroke="#303030" stroke-width="0.12">0.25</text>
<text transform="translate(408.50,770.92) scale(1,1.05)" font-size="5.8" text-anchor="middle" fill="#303030" stroke="#303030" stroke-width="0.12">0.24</text>
<text transform="translate(424.22,770.92) scale(1,1.05)" font-size="5.8" text-anchor="middle" fill="#303030" stroke="#303030" stroke-width="0.12">0.26</text>
<text transform="translate(439.94,770.92) scale(1,1.05)" font-size="5.8" text-anchor="middle" fill="#303030" stroke="#303030" stroke-width="0.12">0.25</text>
<text transform="translate(455.66,770.92) scale(1,1.05)" font-size="5.8" text-anchor="middle" fill="#303030" stroke="#303030" stroke-width="0.12">0.26</text>
<text transform="translate(471.38,770.92) scale(1,1.05)" font-size="5.8" text-anchor="middle" fill="#303030" stroke="#303030" stroke-width="0.12">0.32</text>
<text transform="translate(487.10,770.92) scale(1,1.05)" font-size="5.8" text-anchor="middle" fill="#303030" stroke="#303030" stroke-width="0.12">0.24</text>
<text transform="translate(502.82,770.92) scale(1,1.05)" font-size="5.8" text-anchor="middle" fill="#303030" stroke="#303030" stroke-width="0.12">0.24</text>
<text transform="translate(266.52,786.59) scale(1,1.05)" font-size="5.8" text-anchor="middle" fill="#6e1414" stroke="#6e1414" stroke-width="0.12">1</text>
<text transform="translate(282.74,786.59) scale(1,1.05)" font-size="5.8" text-anchor="middle" fill="#303030" stroke="#303030" stroke-width="0.12">0.33</text>
<text transform="translate(298.46,786.59) scale(1,1.05)" font-size="5.8" text-anchor="middle" fill="#303030" stroke="#303030" stroke-width="0.12">0.31</text>
<text transform="translate(314.18,786.59) scale(1,1.05)" font-size="5.8" text-anchor="middle" fill="#303030" stroke="#303030" stroke-width="0.12">0.32</text>
<text transform="translate(329.70,786.59) scale(1,1.05)" font-size="5.8" text-anchor="middle" fill="#303030" stroke="#303030" stroke-width="0.12">0.3</text>
<text transform="translate(345.62,786.59) scale(1,1.05)" font-size="5.8" text-anchor="middle" fill="#303030" stroke="#303030" stroke-width="0.12">0.31</text>
<text transform="translate(361.34,786.59) scale(1,1.05)" font-size="5.8" text-anchor="middle" fill="#303030" stroke="#303030" stroke-width="0.12">0.28</text>
<text transform="translate(377.06,786.59) scale(1,1.05)" font-size="5.8" text-anchor="middle" fill="#303030" stroke="#303030" stroke-width="0.12">0.28</text>
<text transform="translate(392.78,786.59) scale(1,1.05)" font-size="5.8" text-anchor="middle" fill="#303030" stroke="#303030" stroke-width="0.12">0.28</text>
<text transform="translate(408.50,786.59) scale(1,1.05)" font-size="5.8" text-anchor="middle" fill="#303030" stroke="#303030" stroke-width="0.12">0.26</text>
<text transform="translate(424.22,786.59) scale(1,1.05)" font-size="5.8" text-anchor="middle" fill="#303030" stroke="#303030" stroke-width="0.12">0.28</text>
<text transform="translate(439.94,786.59) scale(1,1.05)" font-size="5.8" text-anchor="middle" fill="#303030" stroke="#303030" stroke-width="0.12">0.29</text>
<text transform="translate(455.66,786.59) scale(1,1.05)" font-size="5.8" text-anchor="middle" fill="#303030" stroke="#303030" stroke-width="0.12">0.25</text>
<text transform="translate(471.38,786.59) scale(1,1.05)" font-size="5.8" text-anchor="middle" fill="#303030" stroke="#303030" stroke-width="0.12">0.29</text>
<text transform="translate(487.10,786.59) scale(1,1.05)" font-size="5.8" text-anchor="middle" fill="#303030" stroke="#303030" stroke-width="0.12">0.22</text>
<text transform="translate(502.82,786.59) scale(1,1.05)" font-size="5.8" text-anchor="middle" fill="#303030" stroke="#303030" stroke-width="0.12">0.24</text>
<text transform="translate(250.80,802.25) scale(1,1.05)" font-size="5.8" text-anchor="middle" fill="#6e1414" stroke="#6e1414" stroke-width="0.12">1</text>
<text transform="translate(266.82,802.25) scale(1,1.05)" font-size="5.8" text-anchor="middle" fill="#303030" stroke="#303030" stroke-width="0.12">0.5</text>
<text transform="translate(282.74,802.25) scale(1,1.05)" font-size="5.8" text-anchor="middle" fill="#303030" stroke="#303030" stroke-width="0.12">0.33</text>
<text transform="translate(298.46,802.25) scale(1,1.05)" font-size="5.8" text-anchor="middle" fill="#303030" stroke="#303030" stroke-width="0.12">0.33</text>
<text transform="translate(314.18,802.25) scale(1,1.05)" font-size="5.8" text-anchor="middle" fill="#303030" stroke="#303030" stroke-width="0.12">0.39</text>
<text transform="translate(329.90,802.25) scale(1,1.05)" font-size="5.8" text-anchor="middle" fill="#303030" stroke="#303030" stroke-width="0.12">0.38</text>
<text transform="translate(345.62,802.25) scale(1,1.05)" font-size="5.8" text-anchor="middle" fill="#303030" stroke="#303030" stroke-width="0.12">0.38</text>
<text transform="translate(361.34,802.25) scale(1,1.05)" font-size="5.8" text-anchor="middle" fill="#303030" stroke="#303030" stroke-width="0.12">0.29</text>
<text transform="translate(377.06,802.25) scale(1,1.05)" font-size="5.8" text-anchor="middle" fill="#303030" stroke="#303030" stroke-width="0.12">0.34</text>
<text transform="translate(392.78,802.25) scale(1,1.05)" font-size="5.8" text-anchor="middle" fill="#303030" stroke="#303030" stroke-width="0.12">0.27</text>
<text transform="translate(408.50,802.25) scale(1,1.05)" font-size="5.8" text-anchor="middle" fill="#303030" stroke="#303030" stroke-width="0.12">0.26</text>
<text transform="translate(424.22,802.25) scale(1,1.05)" font-size="5.8" text-anchor="middle" fill="#303030" stroke="#303030" stroke-width="0.12">0.29</text>
<text transform="translate(439.74,802.25) scale(1,1.05)" font-size="5.8" text-anchor="middle" fill="#303030" stroke="#303030" stroke-width="0.12">0.3</text>
<text transform="translate(455.66,802.25) scale(1,1.05)" font-size="5.8" text-anchor="middle" fill="#303030" stroke="#303030" stroke-width="0.12">0.26</text>
<text transform="translate(471.38,802.25) scale(1,1.05)" font-size="5.8" text-anchor="middle" fill="#303030" stroke="#303030" stroke-width="0.12">0.25</text>
<text transform="translate(487.10,802.25) scale(1,1.05)" font-size="5.8" text-anchor="middle" fill="#303030" stroke="#303030" stroke-width="0.12">0.24</text>
<text transform="translate(502.82,802.25) scale(1,1.05)" font-size="5.8" text-anchor="middle" fill="#303030" stroke="#303030" stroke-width="0.12">0.27</text>
<text transform="translate(235.08,817.93) scale(1,1.05)" font-size="5.8" text-anchor="middle" fill="#6e1414" stroke="#6e1414" stroke-width="0.12">1</text>
<text transform="translate(251.30,817.93) scale(1,1.05)" font-size="5.8" text-anchor="middle" fill="#303030" stroke="#303030" stroke-width="0.12">0.45</text>
<text transform="translate(267.02,817.93) scale(1,1.05)" font-size="5.8" text-anchor="middle" fill="#303030" stroke="#303030" stroke-width="0.12">0.46</text>
<text transform="translate(282.74,817.93) scale(1,1.05)" font-size="5.8" text-anchor="middle" fill="#303030" stroke="#303030" stroke-width="0.12">0.34</text>
<text transform="translate(298.46,817.93) scale(1,1.05)" font-size="5.8" text-anchor="middle" fill="#303030" stroke="#303030" stroke-width="0.12">0.35</text>
<text transform="translate(314.18,817.93) scale(1,1.05)" font-size="5.8" text-anchor="middle" fill="#303030" stroke="#303030" stroke-width="0.12">0.38</text>
<text transform="translate(329.90,817.93) scale(1,1.05)" font-size="5.8" text-anchor="middle" fill="#303030" stroke="#303030" stroke-width="0.12">0.35</text>
<text transform="translate(345.62,817.93) scale(1,1.05)" font-size="5.8" text-anchor="middle" fill="#303030" stroke="#303030" stroke-width="0.12">0.31</text>
<text transform="translate(361.34,817.93) scale(1,1.05)" font-size="5.8" text-anchor="middle" fill="#303030" stroke="#303030" stroke-width="0.12">0.29</text>
<text transform="translate(377.06,817.93) scale(1,1.05)" font-size="5.8" text-anchor="middle" fill="#303030" stroke="#303030" stroke-width="0.12">0.28</text>
<text transform="translate(392.78,817.93) scale(1,1.05)" font-size="5.8" text-anchor="middle" fill="#303030" stroke="#303030" stroke-width="0.12">0.31</text>
<text transform="translate(408.30,817.93) scale(1,1.05)" font-size="5.8" text-anchor="middle" fill="#303030" stroke="#303030" stroke-width="0.12">0.3</text>
<text transform="translate(424.22,817.93) scale(1,1.05)" font-size="5.8" text-anchor="middle" fill="#303030" stroke="#303030" stroke-width="0.12">0.29</text>
<text transform="translate(439.74,817.93) scale(1,1.05)" font-size="5.8" text-anchor="middle" fill="#303030" stroke="#303030" stroke-width="0.12">0.3</text>
<text transform="translate(455.66,817.93) scale(1,1.05)" font-size="5.8" text-anchor="middle" fill="#303030" stroke="#303030" stroke-width="0.12">0.28</text>
<text transform="translate(471.38,817.93) scale(1,1.05)" font-size="5.8" text-anchor="middle" fill="#303030" stroke="#303030" stroke-width="0.12">0.27</text>
<text transform="translate(487.10,817.93) scale(1,1.05)" font-size="5.8" text-anchor="middle" fill="#303030" stroke="#303030" stroke-width="0.12">0.25</text>
<text transform="translate(502.82,817.93) scale(1,1.05)" font-size="5.8" text-anchor="middle" fill="#303030" stroke="#303030" stroke-width="0.12">0.24</text>
<text transform="translate(219.36,833.60) scale(1,1.05)" font-size="5.8" text-anchor="middle" fill="#6e1414" stroke="#6e1414" stroke-width="0.12">1</text>
<text transform="translate(235.58,833.60) scale(1,1.05)" font-size="5.8" text-anchor="middle" fill="#303030" stroke="#303030" stroke-width="0.12">0.78</text>
<text transform="translate(251.30,833.60) scale(1,1.05)" font-size="5.8" text-anchor="middle" fill="#303030" stroke="#303030" stroke-width="0.12">0.45</text>
<text transform="translate(267.02,833.60) scale(1,1.05)" font-size="5.8" text-anchor="middle" fill="#303030" stroke="#303030" stroke-width="0.12">0.46</text>
<text transform="translate(282.74,833.60) scale(1,1.05)" font-size="5.8" text-anchor="middle" fill="#303030" stroke="#303030" stroke-width="0.12">0.36</text>
<text transform="translate(298.46,833.60) scale(1,1.05)" font-size="5.8" text-anchor="middle" fill="#303030" stroke="#303030" stroke-width="0.12">0.35</text>
<text transform="translate(314.18,833.60) scale(1,1.05)" font-size="5.8" text-anchor="middle" fill="#303030" stroke="#303030" stroke-width="0.12">0.39</text>
<text transform="translate(329.90,833.60) scale(1,1.05)" font-size="5.8" text-anchor="middle" fill="#303030" stroke="#303030" stroke-width="0.12">0.35</text>
<text transform="translate(345.62,833.60) scale(1,1.05)" font-size="5.8" text-anchor="middle" fill="#303030" stroke="#303030" stroke-width="0.12">0.33</text>
<text transform="translate(361.34,833.60) scale(1,1.05)" font-size="5.8" text-anchor="middle" fill="#303030" stroke="#303030" stroke-width="0.12">0.29</text>
<text transform="translate(377.06,833.60) scale(1,1.05)" font-size="5.8" text-anchor="middle" fill="#303030" stroke="#303030" stroke-width="0.12">0.29</text>
<text transform="translate(392.78,833.60) scale(1,1.05)" font-size="5.8" text-anchor="middle" fill="#303030" stroke="#303030" stroke-width="0.12">0.32</text>
<text transform="translate(408.30,833.60) scale(1,1.05)" font-size="5.8" text-anchor="middle" fill="#303030" stroke="#303030" stroke-width="0.12">0.3</text>
<text transform="translate(424.22,833.60) scale(1,1.05)" font-size="5.8" text-anchor="middle" fill="#303030" stroke="#303030" stroke-width="0.12">0.36</text>
<text transform="translate(439.94,833.60) scale(1,1.05)" font-size="5.8" text-anchor="middle" fill="#303030" stroke="#303030" stroke-width="0.12">0.33</text>
<text transform="translate(455.46,833.60) scale(1,1.05)" font-size="5.8" text-anchor="middle" fill="#303030" stroke="#303030" stroke-width="0.12">0.3</text>
<text transform="translate(471.38,833.60) scale(1,1.05)" font-size="5.8" text-anchor="middle" fill="#303030" stroke="#303030" stroke-width="0.12">0.24</text>
<text transform="translate(487.10,833.60) scale(1,1.05)" font-size="5.8" text-anchor="middle" fill="#303030" stroke="#303030" stroke-width="0.12">0.27</text>
<text transform="translate(502.82,833.60) scale(1,1.05)" font-size="5.8" text-anchor="middle" fill="#303030" stroke="#303030" stroke-width="0.12">0.23</text>
<text transform="translate(209.30,549.00) scale(1,1.1)" font-size="7.5" text-anchor="end" fill="#1a1a1a" stroke="#1a1a1a" stroke-width="0.18">Salehabad virus</text>
<text transform="translate(209.30,564.00) scale(1,1.1)" font-size="7.5" text-anchor="end" fill="#1a1a1a" stroke="#1a1a1a" stroke-width="0.18">Munguba virus</text>
<text transform="translate(206.80,581.10) scale(1,1.1)" font-size="7.5" text-anchor="end" fill="#1a1a1a" stroke="#1a1a1a" stroke-width="0.18">Heterosigma akashiwo RNA virus</text>
<text transform="translate(209.30,596.80) scale(1,1.1)" font-size="7.5" text-anchor="end" fill="#1a1a1a" stroke="#1a1a1a" stroke-width="0.18">Aurantiochytrium single-stranded RNA virus 1</text>
<text transform="translate(209.30,614.00) scale(1,1.1)" font-size="7.5" text-anchor="end" fill="#1a1a1a" stroke="#1a1a1a" stroke-width="0.18">Marine RNA virus SF-1</text>
<text transform="translate(209.30,629.10) scale(1,1.1)" font-size="7.5" text-anchor="end" fill="#1a1a1a" stroke="#1a1a1a" stroke-width="0.18">Asterionellopsis glacialis RNA virus</text>
<text transform="translate(209.30,644.20) scale(1,1.1)" font-size="7.5" text-anchor="end" fill="#1a1a1a" stroke="#1a1a1a" stroke-width="0.18">Chaetoceros tenuissimus RNA virus 1</text>
<text transform="translate(209.30,661.30) scale(1,1.1)" font-size="7.5" text-anchor="end" fill="#1a1a1a" stroke="#1a1a1a" stroke-width="0.18">Rhizosolenia setigera RNA virus 1</text>
<text transform="translate(209.30,677.30) scale(1,1.1)" font-size="7.5" text-anchor="end" fill="#1a1a1a" stroke="#1a1a1a" stroke-width="0.18">Himetobi P virus</text>
<text transform="translate(209.30,691.40) scale(1,1.1)" font-size="7.5" text-anchor="end" fill="#1a1a1a" stroke="#1a1a1a" stroke-width="0.18">Homalodisca coagulata virus 1</text>
<text transform="translate(209.30,706.90) scale(1,1.1)" font-size="7.5" text-anchor="end" fill="#1a1a1a" stroke="#1a1a1a" stroke-width="0.18">Acute bee paralysis virus</text>
<text transform="translate(209.30,723.20) scale(1,1.1)" font-size="7.5" text-anchor="end" fill="#1a1a1a" stroke="#1a1a1a" stroke-width="0.18">Kashmir bee virus</text>
<text transform="translate(209.30,737.90) scale(1,1.1)" font-size="7.5" text-anchor="end" fill="#1a1a1a" stroke="#1a1a1a" stroke-width="0.18">Solenopsis invicta virus 1</text>
<text transform="translate(209.30,755.60) scale(1,1.1)" font-size="7.5" text-anchor="end" fill="#1a1a1a" stroke="#1a1a1a" stroke-width="0.18">Drosophila C virus</text>
<text transform="translate(209.30,769.60) scale(1,1.1)" font-size="7.5" text-anchor="end" fill="#1a1a1a" stroke="#1a1a1a" stroke-width="0.18">Acheta domesticus iflavirus</text>
<text transform="translate(209.30,785.90) scale(1,1.1)" font-size="7.5" text-anchor="end" fill="#1a1a1a" stroke="#1a1a1a" stroke-width="0.18">Deformed wing virus</text>
<text transform="translate(209.30,800.60) scale(1,1.1)" font-size="7.5" text-anchor="end" fill="#1a1a1a" stroke="#1a1a1a" stroke-width="0.18">Antheraea pernyi iflavirus</text>
<text transform="translate(208.70,816.90) scale(1,1.1)" font-size="7.5" text-anchor="end" fill="#1a1a1a" stroke="#1a1a1a" stroke-width="0.18">Brevicoryne brassicae virus - UK</text>
<text transform="translate(206.50,833.40) scale(1,1.1)" font-size="7.5" text-anchor="end" fill="#e0233f" stroke="#e0233f" stroke-width="0.18">Cavariella aegopodii iflavirus 1</text>
<text transform="translate(222.36,841.30) rotate(-90) scale(1,1.0)" font-size="7.62" text-anchor="end" fill="#e0233f" stroke="#e0233f" stroke-width="0.14">Cavariella aegopodii iflavirus 1</text>
<text transform="translate(237.18,841.30) rotate(-90) scale(1,1.0)" font-size="7.62" text-anchor="end" fill="#1a1a1a" stroke="#1a1a1a" stroke-width="0.14">Brevicoryne brassicae virus - UK</text>
<text transform="translate(253.70,841.30) rotate(-90) scale(1,1.0)" font-size="7.62" text-anchor="end" fill="#1a1a1a" stroke="#1a1a1a" stroke-width="0.14">Antheraea pernyi iflavirus</text>
<text transform="translate(269.62,841.30) rotate(-90) scale(1,1.0)" font-size="7.62" text-anchor="end" fill="#1a1a1a" stroke="#1a1a1a" stroke-width="0.14">Deformed wing virus</text>
<text transform="translate(284.54,841.30) rotate(-90) scale(1,1.0)" font-size="7.62" text-anchor="end" fill="#1a1a1a" stroke="#1a1a1a" stroke-width="0.14">Acheta domesticus iflavirus</text>
<text transform="translate(300.56,841.30) rotate(-90) scale(1,1.0)" font-size="7.62" text-anchor="end" fill="#1a1a1a" stroke="#1a1a1a" stroke-width="0.14">Drosophila C virus</text>
<text transform="translate(314.88,841.30) rotate(-90) scale(1,1.0)" font-size="7.62" text-anchor="end" fill="#1a1a1a" stroke="#1a1a1a" stroke-width="0.14">Solenopsis invicta virus 1</text>
<text transform="translate(331.80,841.30) rotate(-90) scale(1,1.0)" font-size="7.62" text-anchor="end" fill="#1a1a1a" stroke="#1a1a1a" stroke-width="0.14">Kashmir bee virus</text>
<text transform="translate(348.22,841.30) rotate(-90) scale(1,1.0)" font-size="7.62" text-anchor="end" fill="#1a1a1a" stroke="#1a1a1a" stroke-width="0.14">Acute bee paralysis virus</text>
<text transform="translate(363.44,841.30) rotate(-90) scale(1,1.0)" font-size="7.62" text-anchor="end" fill="#1a1a1a" stroke="#1a1a1a" stroke-width="0.14">Homalodisca coagulata virus 1</text>
<text transform="translate(378.46,841.30) rotate(-90) scale(1,1.0)" font-size="7.62" text-anchor="end" fill="#1a1a1a" stroke="#1a1a1a" stroke-width="0.14">Himetobi P virus</text>
<text transform="translate(395.28,841.30) rotate(-90) scale(1,1.0)" font-size="7.62" text-anchor="end" fill="#1a1a1a" stroke="#1a1a1a" stroke-width="0.14">Rhizosolenia setigera RNA virus 1</text>
<text transform="translate(410.50,841.30) rotate(-90) scale(1,1.0)" font-size="7.62" text-anchor="end" fill="#1a1a1a" stroke="#1a1a1a" stroke-width="0.14">Chaetoceros tenuissimus RNA virus 1</text>
<text transform="translate(426.22,841.30) rotate(-90) scale(1,1.0)" font-size="7.62" text-anchor="end" fill="#1a1a1a" stroke="#1a1a1a" stroke-width="0.14">Asterionellopsis glacialis RNA virus</text>
<text transform="translate(441.94,841.30) rotate(-90) scale(1,1.0)" font-size="7.62" text-anchor="end" fill="#1a1a1a" stroke="#1a1a1a" stroke-width="0.14">Marine RNA virus SF-1</text>
<text transform="translate(457.66,841.30) rotate(-90) scale(1,1.0)" font-size="7.62" text-anchor="end" fill="#1a1a1a" stroke="#1a1a1a" stroke-width="0.14">Aurantiochytrium single-stranded RNA virus 1</text>
<text transform="translate(473.88,841.30) rotate(-90) scale(1,1.0)" font-size="7.62" text-anchor="end" fill="#1a1a1a" stroke="#1a1a1a" stroke-width="0.14">Heterosigma akashiwo RNA virus</text>
<text transform="translate(488.40,841.30) rotate(-90) scale(1,1.0)" font-size="7.62" text-anchor="end" fill="#1a1a1a" stroke="#1a1a1a" stroke-width="0.14">Munguba virus</text>
<text transform="translate(503.22,841.30) rotate(-90) scale(1,1.0)" font-size="7.62" text-anchor="end" fill="#1a1a1a" stroke="#1a1a1a" stroke-width="0.14">Salehabad virus</text>
<line x1="55.5" y1="543.7" x2="55.5" y2="560" stroke="#858585" stroke-width="1"/>
<text transform="translate(53.10,556.10) scale(1,1.1)" font-size="6.9" text-anchor="end" fill="#1f1f1f" font-style="italic" stroke="#1f1f1f" stroke-width="0.26">Phenuiviridae</text>
<line x1="55.5" y1="573.1" x2="55.5" y2="659.8" stroke="#858585" stroke-width="1"/>
<text transform="translate(53.10,622.30) scale(1,1.1)" font-size="6.9" text-anchor="end" fill="#1f1f1f" font-style="italic" stroke="#1f1f1f" stroke-width="0.26">Marnaviridae</text>
<line x1="55.5" y1="670.3" x2="55.5" y2="756.6" stroke="#858585" stroke-width="1"/>
<text transform="translate(53.50,714.80) scale(1,1.1)" font-size="6.9" text-anchor="end" fill="#1f1f1f" font-style="italic" stroke="#1f1f1f" stroke-width="0.26">Dicistroviridae</text>
<line x1="55.5" y1="765" x2="55.5" y2="835.4" stroke="#858585" stroke-width="1"/>
<text transform="translate(52.20,803.00) scale(1,1.1)" font-size="6.9" text-anchor="end" fill="#1f1f1f" font-style="italic" stroke="#1f1f1f" stroke-width="0.26">Iflaviridae</text>
<line x1="218.5" y1="994" x2="288.6" y2="994" stroke="#858585" stroke-width="1"/>
<text x="239.50" y="1005.50" font-size="7.4" text-anchor="start" fill="#1f1f1f" font-style="italic" stroke="#1f1f1f" stroke-width="0.26">Iflaviridae</text>
<line x1="297.6" y1="994" x2="384" y2="994" stroke="#858585" stroke-width="1"/>
<text x="317.00" y="1005.00" font-size="7.4" text-anchor="start" fill="#1f1f1f" font-style="italic" stroke="#1f1f1f" stroke-width="0.26">Dicistroviridae</text>
<line x1="392.4" y1="994" x2="479.4" y2="994" stroke="#858585" stroke-width="1"/>
<text x="419.40" y="1004.70" font-size="7.4" text-anchor="start" fill="#1f1f1f" font-style="italic" stroke="#1f1f1f" stroke-width="0.26">Marnaviridae</text>
<line x1="486.2" y1="994" x2="503.9" y2="994" stroke="#858585" stroke-width="1"/>
<text x="479.30" y="1005.40" font-size="7.4" text-anchor="start" fill="#1f1f1f" font-style="italic" stroke="#1f1f1f" stroke-width="0.26">Phenuiviridae</text>
<defs><linearGradient id="gB" x1="0" y1="0" x2="0" y2="1"><stop offset="0.000" stop-color="#d52a2a"/><stop offset="0.050" stop-color="#e14e37"/><stop offset="0.100" stop-color="#ed6a45"/><stop offset="0.150" stop-color="#f88554"/><stop offset="0.200" stop-color="#fe9e64"/><stop offset="0.250" stop-color="#ffb774"/><stop offset="0.300" stop-color="#ffd085"/><stop offset="0.350" stop-color="#fee395"/><stop offset="0.400" stop-color="#ffeca3"/><stop offset="0.450" stop-color="#fff6b1"/><stop offset="0.500" stop-color="#ffffbf"/><stop offset="0.550" stop-color="#f7fbd0"/><stop offset="0.600" stop-color="#eef8e1"/><stop offset="0.650" stop-color="#e4f4f2"/><stop offset="0.700" stop-color="#d1e8f2"/><stop offset="0.750" stop-color="#b9d9e9"/><stop offset="0.800" stop-color="#a1c9e1"/><stop offset="0.850" stop-color="#8ab7d7"/><stop offset="0.900" stop-color="#74a1cb"/><stop offset="0.950" stop-color="#5e8ac0"/><stop offset="1.000" stop-color="#4575b4"/></linearGradient></defs>
<rect x="521.6" y="637.1" width="9.5" height="47.6" fill="url(#gB)"/>
<text transform="translate(521.60,633.10) scale(1,1.05)" font-size="7.4" text-anchor="start" fill="#1a1a1a" stroke="#1a1a1a" stroke-width="0.18">value</text>
<text transform="translate(534.80,639.20) scale(1,1.08)" font-size="7.5" text-anchor="start" fill="#1a1a1a" stroke="#1a1a1a" stroke-width="0.18">1.0</text>
<text transform="translate(534.80,651.10) scale(1,1.08)" font-size="7.5" text-anchor="start" fill="#1a1a1a" stroke="#1a1a1a" stroke-width="0.18">0.8</text>
<text transform="translate(534.80,663.00) scale(1,1.08)" font-size="7.5" text-anchor="start" fill="#1a1a1a" stroke="#1a1a1a" stroke-width="0.18">0.6</text>
<text transform="translate(534.80,674.90) scale(1,1.08)" font-size="7.5" text-anchor="start" fill="#1a1a1a" stroke="#1a1a1a" stroke-width="0.18">0.4</text>
<text transform="translate(534.80,686.80) scale(1,1.08)" font-size="7.5" text-anchor="start" fill="#1a1a1a" stroke="#1a1a1a" stroke-width="0.18">0.2</text>
</g></svg>
</body></html>
